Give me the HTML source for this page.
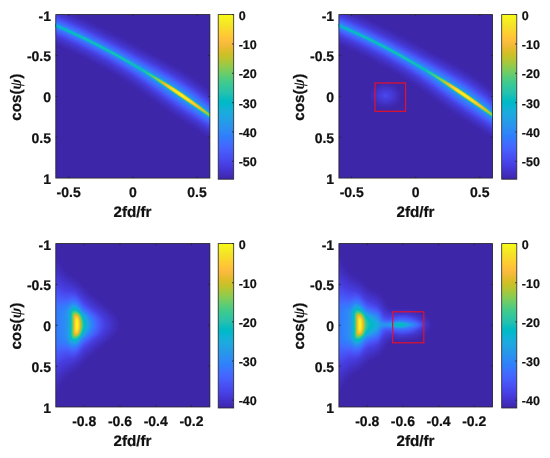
<!DOCTYPE html>
<html lang="en"><head><meta charset="utf-8"><title>Figure</title><style>html,body{margin:0;padding:0;background:#fff}
svg text{font-family:"Liberation Sans",sans-serif;font-weight:bold;fill:#111;stroke:#111;stroke-width:.22px;text-rendering:geometricPrecision}
.t{font-size:14px}.c{font-size:12.5px}.xl{font-size:15.2px}.yl{font-size:15.2px}
.psi{stroke-width:0;font-family:"Liberation Serif","DejaVu Serif",serif;font-style:italic;font-weight:bold;font-size:16px}</style></head><body>
<svg width="550" height="458" viewBox="0 0 550 458" style="display:block">
<rect width="550" height="458" fill="#fff"/>
<defs><linearGradient id="pg" x1="0" y1="0" x2="0" y2="1"><stop offset="0.0000" stop-color="#f9fb15"/><stop offset="0.0159" stop-color="#f7f51b"/><stop offset="0.0317" stop-color="#f6ef20"/><stop offset="0.0476" stop-color="#f5e924"/><stop offset="0.0635" stop-color="#f5e327"/><stop offset="0.0794" stop-color="#f7dc2a"/><stop offset="0.0952" stop-color="#fad62d"/><stop offset="0.1111" stop-color="#fccf30"/><stop offset="0.1270" stop-color="#fec934"/><stop offset="0.1429" stop-color="#fec338"/><stop offset="0.1587" stop-color="#febe3c"/><stop offset="0.1746" stop-color="#f8ba3d"/><stop offset="0.1905" stop-color="#f0ba36"/><stop offset="0.2063" stop-color="#e6bb2d"/><stop offset="0.2222" stop-color="#dcbd29"/><stop offset="0.2381" stop-color="#d1bf27"/><stop offset="0.2540" stop-color="#c5c22a"/><stop offset="0.2698" stop-color="#b9c431"/><stop offset="0.2857" stop-color="#abc739"/><stop offset="0.3016" stop-color="#9dc943"/><stop offset="0.3175" stop-color="#8fcb4e"/><stop offset="0.3333" stop-color="#81cc59"/><stop offset="0.3492" stop-color="#72cd64"/><stop offset="0.3651" stop-color="#64cd6f"/><stop offset="0.3810" stop-color="#57cc7a"/><stop offset="0.3968" stop-color="#4acb84"/><stop offset="0.4127" stop-color="#3fca8e"/><stop offset="0.4286" stop-color="#37c897"/><stop offset="0.4444" stop-color="#31c69f"/><stop offset="0.4603" stop-color="#2cc4a7"/><stop offset="0.4762" stop-color="#24c1ae"/><stop offset="0.4921" stop-color="#19bfb6"/><stop offset="0.5079" stop-color="#0bbdbd"/><stop offset="0.5238" stop-color="#02bac3"/><stop offset="0.5397" stop-color="#01b8ca"/><stop offset="0.5556" stop-color="#08b5d0"/><stop offset="0.5714" stop-color="#12b1d6"/><stop offset="0.5873" stop-color="#18addb"/><stop offset="0.6032" stop-color="#1ca9df"/><stop offset="0.6190" stop-color="#20a5e3"/><stop offset="0.6349" stop-color="#23a0e5"/><stop offset="0.6508" stop-color="#259be8"/><stop offset="0.6667" stop-color="#2797eb"/><stop offset="0.6825" stop-color="#2b91ef"/><stop offset="0.6984" stop-color="#2d8cf3"/><stop offset="0.7143" stop-color="#2e87f7"/><stop offset="0.7302" stop-color="#2f81fa"/><stop offset="0.7460" stop-color="#327cfc"/><stop offset="0.7619" stop-color="#3875fe"/><stop offset="0.7778" stop-color="#3e6fff"/><stop offset="0.7937" stop-color="#4269fe"/><stop offset="0.8095" stop-color="#4563fd"/><stop offset="0.8254" stop-color="#465efb"/><stop offset="0.8413" stop-color="#4758f8"/><stop offset="0.8571" stop-color="#4852f4"/><stop offset="0.8730" stop-color="#484df0"/><stop offset="0.8889" stop-color="#4747eb"/><stop offset="0.9048" stop-color="#4741e5"/><stop offset="0.9206" stop-color="#463cde"/><stop offset="0.9365" stop-color="#4537d5"/><stop offset="0.9524" stop-color="#4332cb"/><stop offset="0.9683" stop-color="#422ec0"/><stop offset="0.9841" stop-color="#402ab4"/><stop offset="1.0000" stop-color="#3e26a8"/></linearGradient><clipPath id="ctl"><rect x="0" y="0" width="154.1" height="163.5"/></clipPath><clipPath id="ctr"><rect x="0" y="0" width="153.7" height="163.5"/></clipPath><clipPath id="cbl"><rect x="0" y="0" width="154.1" height="163.4"/></clipPath><clipPath id="cbr"><rect x="0" y="0" width="153.7" height="163.4"/></clipPath><filter id="bl" x="-5%" y="-5%" width="110%" height="110%"><feGaussianBlur stdDeviation="1.2"/></filter><filter id="bh" x="-8%" y="-8%" width="116%" height="116%"><feGaussianBlur stdDeviation="3"/></filter></defs>
<g transform="translate(55.8 14.6)" clip-path="url(#ctl)"><rect width="154.1" height="163.5" fill="#3e26a8"/><g filter="url(#bh)"><rect x="-12" y="-12" width="178.1" height="187.5" fill="#3e26a8"/><g transform="scale(.1)"><path fill="#412dbc" d="M-100 -90l90 37 85 36 90 40 90 41 90 43 95 46 190 99 451 240 75 41 60 35 65 39 70 46 65 45 70 53 70 57 85 71 0 395 -76 -54 -74 -50 -240 -153 -90 -60 -100 -70 -174 -127 -77 -55 -89 -60 -96 -60 -76 -45 -81 -45 -94 -50 -88 -45 -92 -45 -95 -45 -100 -45 -99 -42z"/><path fill="#4332c9" d="M-100 -73l85 34 85 36 80 36 90 41 165 79 90 46 95 49 476 254 120 66 75 45 60 38 60 42 65 48 85 67 110 91 0 356 -71 -50 -74 -50 -230 -147 -90 -59 -95 -67 -181 -132 -85 -60 -89 -60 -96 -60 -86 -50 -81 -45 -94 -50 -89 -45 -92 -45 -96 -45 -101 -45 -91 -39z"/><path fill="#4536d5" d="M-100 -58l160 66 80 35 85 39 160 76 175 90 486 259 120 66 65 38 65 41 60 40 60 43 50 39 50 39 125 104 0 321 -69 -48 -74 -50 -222 -142 -90 -59 -95 -66 -189 -138 -77 -55 -97 -65 -97 -60 -86 -50 -81 -45 -95 -50 -89 -45 -92 -45 -97 -45 -101 -45 -90 -38z"/><path fill="#463cdf" d="M-100 -45l150 62 160 71 155 74 170 86 486 259 120 66 70 41 60 37 55 36 65 46 55 41 55 43 140 117 0 289 -69 -48 -67 -45 -229 -147 -85 -56 -100 -70 -175 -127 -84 -60 -98 -65 -96 -60 -77 -45 -90 -50 -85 -45 -99 -50 -92 -45 -97 -45 -101 -45 -97 -41z"/><path fill="#4742e6" d="M-100 -34l150 63 155 69 155 74 160 81 115 61 371 198 120 66 70 40 55 34 55 35 60 42 60 44 55 43 70 57 90 75 0 262 -64 -45 -67 -45 -229 -147 -85 -56 -100 -70 -175 -127 -85 -60 -97 -65 -97 -60 -77 -45 -90 -50 -95 -50 -89 -45 -103 -50 -97 -45 -101 -45 -90 -38z"/></g></g><g filter="url(#bl)"><g transform="scale(.1)"><path fill="#4849ed" d="M-100 -23l145 60 155 69 150 72 160 81 160 84 351 189 95 52 65 37 60 37 55 35 50 34 60 44 65 50 70 57 100 84 0 236 -69 -48 -67 -45 -214 -138 -90 -59 -100 -70 -177 -128 -85 -60 -97 -65 -97 -60 -78 -45 -90 -50 -85 -45 -99 -50 -103 -50 -97 -45 -101 -45 -92 -39z"/><path fill="#484ff2" d="M-100 -13l145 60 145 65 150 71 150 76 160 84 361 194 85 46 60 34 60 36 55 35 50 34 65 46 70 53 75 61 110 92 0 213 -60 -42 -67 -45 -228 -147 -90 -60 -100 -70 -191 -138 -86 -60 -84 -55 -90 -55 -86 -50 -82 -45 -85 -45 -99 -50 -103 -50 -97 -45 -102 -45 -91 -38z"/><path fill="#4755f6" d="M-100 -5l150 63 135 60 145 69 150 76 170 89 426 230 65 37 55 32 50 31 55 36 70 50 80 60 80 65 110 92 0 192 -119 -82 -236 -152 -90 -61 -100 -70 -190 -137 -80 -55 -84 -55 -89 -55 -77 -45 -91 -50 -94 -50 -100 -50 -103 -50 -98 -45 -90 -40 -100 -42z"/><path fill="#475cfa" d="M-100 4l140 58 145 65 140 66 150 76 170 89 416 225 70 39 50 29 50 31 55 36 70 49 80 60 90 72 115 96 0 172 -120 -82 -220 -142 -105 -70 -85 -60 -199 -143 -87 -60 -84 -55 -81 -50 -78 -45 -90 -50 -95 -50 -98 -50 -104 -50 -97 -45 -102 -45 -96 -41z"/><path fill="#4562fc" d="M-100 11l135 57 145 64 140 67 145 72 165 87 416 225 120 68 50 31 50 32 85 58 80 60 80 64 130 108 0 155 -115 -79 -220 -143 -105 -70 -85 -59 -192 -138 -93 -65 -85 -55 -89 -55 -87 -50 -82 -45 -94 -50 -100 -50 -103 -50 -98 -45 -102 -45 -91 -38z"/><path fill="#4369fe" d="M-100 19l140 58 135 60 140 67 145 72 165 87 416 225 115 65 95 59 80 55 90 66 85 68 135 112 0 137 -125 -85 -205 -133 -105 -70 -85 -59 -199 -143 -87 -60 -84 -55 -90 -55 -86 -50 -82 -45 -95 -50 -99 -50 -103 -50 -98 -45 -102 -45 -96 -40z"/><path fill="#3e70ff" d="M-100 26l135 56 135 60 140 67 140 70 170 89 406 219 115 65 90 55 45 30 45 31 90 66 100 80 130 107 0 121 -114 -77 -221 -144 -95 -63 -95 -67 -190 -136 -87 -60 -84 -55 -89 -55 -78 -45 -90 -50 -95 -50 -99 -50 -104 -50 -97 -45 -102 -45 -101 -42z"/><path fill="#3777fe" d="M-100 32l135 57 135 60 135 64 140 70 170 89 401 216 115 65 90 55 45 29 45 31 50 36 45 34 95 75 140 117 0 105 -110 -75 -220 -143 -95 -63 -95 -67 -191 -137 -87 -60 -92 -60 -90 -55 -78 -45 -91 -50 -95 -50 -100 -50 -104 -50 -98 -45 -102 -45 -93 -39z"/><path fill="#317dfb" d="M-100 39l125 52 135 60 130 61 140 70 180 94 391 211 110 62 90 54 55 35 45 31 45 32 50 37 100 79 145 120 0 91 -114 -78 -211 -137 -100 -66 -90 -63 -186 -134 -94 -65 -92 -60 -90 -55 -78 -45 -91 -50 -95 -50 -99 -50 -104 -50 -98 -45 -102 -45 -97 -41z"/><path fill="#2e84f9" d="M-100 45l115 47 135 60 140 65 130 65 180 95 401 216 105 59 85 51 55 35 45 31 50 35 45 33 100 79 155 129 0 76 -112 -76 -203 -132 -90 -60 -95 -66 -170 -122 -78 -55 -82 -55 -86 -55 -84 -50 -116 -65 -95 -50 -98 -50 -92 -45 -140 -65 -90 -40 -110 -46z"/><path fill="#2d8af5" d="M-100 48l130 54 125 55 140 66 120 60 105 54 120 65 176 98 225 122 70 40 60 35 50 32 50 33 50 35 55 40 55 42 55 44 155 129 0 62 -101 -69 -214 -139 -90 -60 -100 -69 -170 -122 -71 -50 -74 -50 -71 -45 -85 -50 -125 -70 -75 -40 -127 -65 -123 -60 -86 -40 -134 -60 -95 -40z"/></g></g><g transform="scale(.1)"><path fill="#2c90f0" d="M-100 50l150 63 135 60 115 54 130 65 115 61 110 59 216 123 195 107 95 56 50 31 50 33 50 34 55 40 95 74 180 148 0 51 -55 -39 -60 -40 -195 -127 -90 -60 -95 -66 -227 -162 -74 -50 -65 -40 -84 -50 -116 -65 -130 -70 -98 -50 -112 -55 -150 -70 -125 -55 -65 -27z"/><path fill="#2896ec" d="M-100 52l135 56 135 59 75 35 75 37 145 73 115 61 100 55 186 107 215 122 75 44 50 31 45 29 50 35 50 36 110 84 180 145 0 45 -130 -91 -200 -131 -90 -61 -85 -59 -131 -94 -65 -45 -75 -50 -64 -40 -120 -70 -125 -70 -84 -45 -107 -55 -122 -60 -128 -60 -100 -45 -115 -49z"/><path fill="#259be8" d="M-100 53l155 65 125 55 135 64 140 71 140 74 100 56 176 102 145 82 110 65 55 34 55 36 45 30 55 39 75 56 65 50 165 131 0 41 -90 -64 -95 -65 -160 -106 -95 -65 -205 -144 -120 -80 -56 -35 -119 -70 -116 -65 -111 -60 -97 -50 -121 -60 -116 -55 -133 -60 -107 -46z"/><path fill="#23a0e5" d="M-100 55l130 53 135 60 140 66 130 65 140 74 100 55 106 60 79 47 136 78 110 64 95 59 60 40 65 46 115 85 110 85 90 73 0 38 -60 -43 -115 -80 -225 -151 -41 -29 -4 -2 -10 -8 -5 -3 -160 -112 -120 -80 -70 -45 -111 -65 -125 -70 -110 -60 -106 -55 -121 -60 -128 -60 -110 -50 -120 -52z"/><path fill="#1fa6e2" d="M-100 56l140 58 135 59 135 64 140 71 125 66 100 55 85 49 106 62 145 83 100 59 80 50 105 70 110 80 125 96 110 88 0 35 -79 -56 -131 -90 -195 -131 -41 -29 -4 -2 -10 -8 -5 -3 -175 -122 -120 -80 -65 -40 -121 -70 -125 -70 -95 -51 -105 -55 -110 -54 -140 -66 -110 -50 -110 -47z"/><path fill="#1baade" d="M-100 58l150 61 125 55 125 60 140 70 115 60 110 60 95 55 106 62 135 77 100 59 90 56 90 60 70 49 55 41 105 80 130 104 0 33 -165 -115 -305 -207 -125 -88 -66 -45 -99 -66 -55 -35 -121 -70 -125 -70 -95 -51 -105 -55 -120 -59 -140 -66 -120 -55 -100 -42z"/><path fill="#15afd9" d="M-100 59l149 61 125 55 126 60 140 70 150 79 90 50 176 102 100 57 145 85 95 59 90 60 105 76 105 79 145 117 0 29 -200 -138 -255 -173 -190 -132 -120 -81 -50 -31 -111 -64 -135 -76 -100 -54 -100 -52 -120 -59 -125 -60 -145 -65 -90 -39z"/><path fill="#0cb3d3" d="M-100 61l146 59 114 50 129 60 140 70 142 75 99 54 71 41 115 68 90 50 145 85 90 55 90 60 85 60 120 90 90 71 75 61 0 27 -170 -117 -305 -207 -190 -133 -115 -77 -50 -30 -86 -50 -125 -70 -65 -36 -95 -50 -125 -63 -135 -66 -165 -76 -115 -50z"/><path fill="#03b7cc" d="M-100 64l130 51 116 50 130 60 151 75 124 65 110 60 70 40 130 77 85 47 135 79 90 54 85 56 85 60 115 85 90 71 95 77 0 25 -220 -151 -240 -163 -205 -143 -105 -71 -50 -31 -96 -55 -150 -84 -75 -41 -85 -44 -120 -61 -135 -64 -140 -65 -85 -38 -5 -3 -6 -2 -4 -3 -20 -7z"/><path fill="#02bac5" d="M-35 95l8 0 -3 1zM-25 99l5 0 7 1 3 2 10 3 5 3 20 7 5 3 56 22 80 35 54 25 84 40 140 70 142 75 90 50 70 40 105 63 110 61 145 84 80 50 90 60 85 60 100 75 90 71 90 74 0 22 -190 -130 -255 -173 -235 -164 -90 -61 -55 -34 -96 -55 -135 -76 -150 -80 -95 -49 -95 -46 -135 -64 -92 -43 -3 -2 -8 -3 -2 -2 -9 -3 -6 -4 -4 -1 -6 -4 -5 -1z"/><path fill="#0abdbd" d="M47 130l3 -1 5 1 -5 1zM56 135l4 -2 5 1 5 3 10 3 5 3 7 2 3 2 21 8 79 35 137 65 147 75 132 70 54 30 95 55 96 57 69 38 61 34 145 85 70 44 90 61 90 64 100 76 95 76 65 54 0 19 -400 -271 -80 -55 -175 -123 -120 -82 -30 -19 -96 -55 -160 -90 -130 -70 -80 -41 -90 -45 -182 -87 -3 -2 -8 -3 -2 -2 -8 -3 -2 -2 -8 -3 -2 -2z"/><path fill="#19bfb5" d="M136 170l4 -1 4 1 -4 1zM146 175l4 -1 6 1 -1 4zM156 180l4 -2 7 2 3 2 20 8 5 3 6 2 4 3 7 2 64 30 142 70 153 80 100 55 94 55 81 48 86 47 139 79 75 45 70 44 80 55 85 61 85 64 91 72 84 70 0 17 -415 -281 -65 -45 -160 -112 -155 -107 -50 -30 -231 -129 -65 -36 -85 -44 -80 -41 -90 -44 -69 -33 -6 -4 -4 -1 -6 -4z"/><path fill="#25c2ad" d="M435 315l0 -1 6 1zM444 320l1 -1 6 1zM454 325l1 -1 5 1zM463 330l2 -1 5 1 -5 1zM473 335l2 -1 4 1 -4 1zM482 340l3 -1 4 1 -4 1zM491 345l4 -1 3 1 -3 1zM500 350l0 -1 8 1 -3 1zM510 355l0 -2 8 2 -3 2zM519 360l1 -2 7 2 -2 2zM528 365l2 -2 7 2 -2 2zM538 370l2 -2 6 2 -1 3zM546 375l4 -2 6 2 4 3 6 2 4 3 5 2 5 3 5 2 56 30 61 35 3 3 5 2 20 13 6 2 7 5 2 2 7 3 -2 3 -7 -3 -3 -3 -6 -2 -4 -3 -14 -7 -21 -12 -69 -38 -31 -18 -5 -2 -10 -7 -7 -3 -3 -3 -6 -2 -4 -3 -5 -2 -5 -4zM752 490l3 -2 5 2 -5 1zM761 495l4 -1 3 1 -3 1zM770 500l0 -1 6 1 0 1zM779 505l2 -1 3 1zM855 550l1 -1 5 1 0 2zM862 555l4 -2 5 2 59 30 80 45 76 43 60 36 55 35 60 40 70 49 55 40 80 61 65 51 55 45 55 47 0 13 -75 -49 -390 -265 -160 -113 -106 -73 -35 -25 -9 -8z"/><path fill="#2ec4a5" d="M880 565l6 0 0 3zM886 570l5 -2 6 2 21 10 37 20 106 60 75 44 40 25 90 59 65 46 55 40 60 45 65 51 80 65 40 35 10 10 0 7 -5 -2 -54 -35 -361 -243 -65 -45 -230 -162z"/><path fill="#34c79c" d="M900 575l1 0 0 1zM903 580l3 -3 5 2 23 11 47 25 79 45 66 38 50 31 90 60 105 74 55 42 65 50 50 40 65 55 26 25 -1 3 -16 -8 -39 -25 -340 -229 -95 -65 -226 -161z"/><path fill="#3cc992" d="M921 587l10 3 38 20 72 40 60 34 90 55 75 50 105 75 100 76 50 40 55 45 28 25 15 15 -3 2 -5 -2 -41 -25 -104 -69 -230 -155 -115 -80 -176 -126 -26 -20z"/><path fill="#47cb87" d="M936 596l10 4 39 20 116 65 90 55 75 50 85 60 100 75 51 40 54 45 35 30 15 15 -5 1 -21 -11 -39 -25 -305 -205 -115 -80 -160 -115 -26 -20z"/><path fill="#54cc7c" d="M949 605l2 0 0 1zM951 610l5 -2 17 7 47 25 71 40 90 54 84 56 106 75 104 80 56 45 35 30 22 20 4 5 -1 2 -5 -1 -11 -6 -55 -35 -284 -190 -65 -45 -71 -50 -110 -80z"/><path fill="#63cd70" d="M964 615l3 0 12 5 30 15 37 20 70 40 65 40 84 55 91 65 99 75 81 65 28 25 15 15 -3 2 -5 -2 -65 -40 -275 -184 -95 -66 -110 -80 -47 -35 -12 -10 -1 -3z"/><path fill="#73cd63" d="M978 625l3 -1 3 1 22 10 56 30 44 25 74 45 77 50 85 60 99 75 75 60 35 30 15 15 0 1 -5 0 -4 -1 -41 -25 -99 -65 -172 -115 -94 -65 -90 -65 -60 -45 -18 -15z"/><path fill="#83cc57" d="M993 635l3 -2 5 2 12 5 38 20 45 25 84 50 90 60 91 65 105 80 37 30 34 30 15 15 -1 3 -7 -3 -18 -10 -55 -35 -240 -160 -65 -45 -90 -65 -60 -45z"/><path fill="#94ca4a" d="M1004 640l3 0 12 5 20 10 47 25 35 20 66 40 75 50 85 60 80 60 74 60 29 25 9 10 -3 3 -5 -2 -35 -21 -100 -65 -156 -105 -94 -65 -76 -55 -52 -40 -11 -10zM1540 1010l1 -1 1 1z"/><path fill="#a4c83e" d="M1017 650l4 -1 5 1 40 20 45 25 75 45 75 50 85 60 79 60 51 40 29 25 17 15 9 10 -5 0 -11 -5 -49 -30 -226 -150 -79 -55 -56 -40 -60 -45 -24 -20z"/><path fill="#b3c534" d="M1029 655l14 5 20 10 72 40 57 35 69 45 84 60 86 65 55 45 22 20 10 10 -2 2 -5 -2 -35 -20 -85 -55 -150 -100 -86 -60 -75 -55 -45 -35 -5 -5z"/><path fill="#c1c32c" d="M1041 663l9 2 11 5 65 35 65 40 69 45 70 50 80 60 57 45 29 25 9 10 -4 2 -5 -2 -50 -30 -115 -75 -96 -65 -79 -55 -75 -55 -25 -20 -16 -15z"/><path fill="#cfc028" d="M1049 670l2 -1 5 1 12 5 29 15 36 20 58 35 75 50 70 50 80 60 55 45 16 15 9 10 -5 0 -10 -5 -41 -25 -100 -65 -104 -70 -65 -45 -56 -40 -45 -35 -17 -15z"/><path fill="#dbbd29" d="M1059 675l3 0 23 10 55 30 57 35 68 45 70 50 67 50 49 40 23 20 9 10 -2 1 -5 -1 -50 -30 -100 -65 -89 -60 -65 -45 -62 -45 -44 -35 -5 -5z"/><path fill="#e7bb2e" d="M1071 682l10 3 11 5 46 25 58 35 61 40 64 45 60 45 51 40 29 25 10 10 -5 1 -4 -1 -26 -15 -86 -55 -105 -70 -79 -55 -54 -40 -37 -30 -5 -5z"/><path fill="#f1ba37" d="M1079 690l2 -2 7 2 21 10 28 15 58 35 61 40 70 50 79 60 42 35 10 10 -1 2 -8 -2 -42 -25 -85 -55 -75 -50 -65 -45 -55 -40 -32 -25z"/><path fill="#fabb3d" d="M1088 695l3 -1 5 1 39 20 51 30 69 45 56 40 54 40 51 40 27 25 -2 3 -7 -3 -18 -10 -71 -45 -90 -60 -80 -55 -34 -25 -38 -30 -11 -10zM1445 940l1 -1 0 1z"/><path fill="#fec03b" d="M1099 700l2 0 12 5 38 20 49 30 61 40 70 50 39 30 49 40 11 10 3 5 -2 0 -11 -5 -34 -20 -70 -45 -75 -50 -65 -45 -41 -30 -30 -25 -5 -5z"/><path fill="#fec736" d="M1109 710l2 -3 9 3 20 10 51 30 54 35 50 35 61 45 50 40 10 10 4 5 -5 0 -35 -20 -55 -35 -68 -45 -86 -60 -40 -30z"/><path fill="#fdce31" d="M1117 715l4 -2 5 2 30 15 49 30 61 40 55 40 40 30 30 25 11 10 -1 5 -35 -20 -40 -25 -90 -60 -71 -50 -32 -25 -12 -10z"/><path fill="#fad52e" d="M1126 720l6 0 11 5 28 15 25 15 61 40 49 35 40 30 36 30 5 5 -1 3 -17 -8 -33 -20 -91 -60 -85 -60 -25 -20z"/><path fill="#f7dc2a" d="M1141 727l8 3 37 20 69 45 76 55 25 20 17 15 -2 2 -5 -1 -19 -11 -32 -20 -69 -45 -64 -45 -26 -20 -17 -15z"/><path fill="#f5e327" d="M1149 735l2 -1 3 1 21 10 25 15 46 30 29 20 41 30 26 20 16 15 -2 2 -5 -2 -50 -30 -46 -30 -84 -60 -18 -15z"/><path fill="#f5ea24" d="M1163 745l3 -1 5 1 10 5 25 15 46 30 28 20 47 35 11 10 -2 3 -7 -3 -17 -10 -62 -40 -64 -45 -12 -10zM1339 865l2 -1 1 1 -1 1z"/><path fill="#f6f11f" d="M1178 755l3 -1 4 1 26 15 46 30 54 40 6 5 -1 5 -25 -15 -46 -30 -49 -35zM1316 850l5 -1 1 1 -1 1z"/><path fill="#f8f818" d="M1201 770l5 0 0 1zM1207 775l4 -1 3 1 33 20 34 25 6 5 -1 3 -16 -8 -43 -30 -16 -13zM1288 830l3 -1 2 1 -2 1z"/></g></g>
<g transform="translate(338.9 14.6)" clip-path="url(#ctr)"><rect width="153.7" height="163.5" fill="#3e26a8"/><g filter="url(#bh)"><rect x="-12" y="-12" width="177.7" height="187.5" fill="#3e26a8"/><g transform="scale(.1)"><path fill="#412dbc" d="M-100 -90l90 37 95 40 90 40 85 39 86 41 95 47 95 48 95 50 450 241 75 41 61 34 65 39 70 46 70 50 65 49 70 57 80 67 0 395 -72 -51 -74 -50 -239 -153 -91 -59 -100 -70 -174 -128 -77 -55 -89 -60 -96 -60 -76 -45 -81 -45 -94 -50 -88 -45 -92 -45 -95 -45 -100 -45 -99 -42zM346 775l10 -15 15 -14 16 -11 21 -10 23 -7 25 -3 25 0 20 2 20 5 20 8 20 13 14 12 11 15 7 15 4 15 0 10 0 10 -3 10 -3 10 -6 10 -7 10 -16 15 -21 13 -25 10 -25 6 -15 1 -15 0 -25 -3 -25 -6 -24 -11 -11 -8 -10 -7 -13 -15 -7 -10 -4 -10 -3 -10 -2 -10 0 -10 2 -10 3 -10z"/><path fill="#4332c9" d="M-100 -73l85 35 85 35 80 36 85 38 85 41 86 41 95 48 90 47 475 254 120 67 66 38 70 45 60 41 65 48 85 67 105 88 0 356 -67 -47 -74 -50 -229 -147 -91 -59 -95 -66 -188 -138 -78 -55 -89 -60 -96 -60 -77 -45 -81 -45 -84 -45 -98 -50 -102 -50 -96 -45 -101 -45 -91 -39zM355 790l8 -15 12 -15 11 -10 17 -10 18 -7 20 -5 20 -2 25 0 20 4 20 7 15 8 15 11 13 14 8 15 5 15 0 15 -2 10 -3 10 -9 15 -12 14 -16 11 -21 10 -23 7 -20 2 -25 -1 -25 -4 -20 -8 -20 -11 -15 -14 -11 -16 -6 -15 -2 -10 0 -10z"/><path fill="#4536d5" d="M-100 -58l160 66 80 35 85 39 161 77 175 89 485 259 120 66 66 39 65 40 60 41 60 43 50 38 50 40 120 100 0 321 -65 -45 -74 -50 -231 -148 -91 -60 -100 -70 -174 -127 -85 -60 -89 -60 -97 -60 -86 -50 -81 -45 -95 -50 -89 -45 -92 -45 -97 -45 -101 -45 -90 -38zM372 790l8 -15 9 -10 13 -10 14 -7 15 -6 20 -4 20 -1 15 1 20 5 15 5 12 7 12 10 11 12 7 13 2 10 1 15 -4 15 -6 12 -11 13 -14 11 -20 9 -18 5 -22 3 -20 -1 -20 -4 -20 -8 -15 -10 -12 -10 -10 -15 -5 -15 -1 -15z"/><path fill="#463cdf" d="M-100 -45l150 62 160 71 156 74 170 87 485 259 125 68 71 41 55 34 60 40 60 42 50 38 60 47 135 112 0 291 -65 -46 -75 -50 -215 -138 -91 -60 -100 -69 -175 -128 -84 -60 -98 -65 -96 -60 -77 -45 -90 -50 -85 -45 -99 -50 -92 -45 -97 -45 -101 -45 -97 -41zM387 800l3 -10 6 -10 10 -9 10 -7 15 -8 15 -4 15 -2 15 0 15 3 15 4 15 8 10 7 10 12 5 10 2 11 0 10 -2 10 -5 11 -8 9 -12 10 -15 8 -15 4 -15 2 -20 0 -15 -3 -15 -5 -13 -6 -12 -10 -8 -10 -5 -10 -2 -10z"/><path fill="#4742e6" d="M-100 -34l160 67 145 65 156 74 160 81 120 63 365 196 120 66 60 35 66 39 55 36 55 38 55 40 65 51 70 57 85 71 0 262 -60 -42 -75 -50 -215 -138 -91 -60 -100 -70 -175 -127 -85 -60 -97 -65 -97 -60 -77 -45 -90 -50 -95 -50 -89 -45 -103 -50 -97 -45 -101 -45 -90 -38zM409 800l5 -10 4 -5 5 -5 8 -5 10 -5 10 -2 10 -2 15 0 10 2 10 3 10 5 10 8 5 6 5 10 1 5 0 10 -1 5 -5 10 -10 10 -8 5 -11 5 -11 3 -10 1 -15 -1 -10 -2 -10 -4 -10 -5 -8 -7 -4 -5 -5 -10 -2 -10z"/></g></g><g filter="url(#bl)"><g transform="scale(.1)"><path fill="#4849ed" d="M-100 -23l145 60 155 69 151 72 165 84 160 84 345 186 90 49 65 38 56 33 55 35 60 41 60 44 65 50 75 61 90 75 0 237 -65 -45 -67 -45 -213 -137 -85 -56 -101 -70 -182 -132 -85 -60 -97 -65 -97 -60 -78 -45 -90 -50 -85 -45 -99 -50 -103 -50 -97 -45 -101 -45 -92 -39zM441 810l1 -5 3 -5 6 -5 5 -2 10 -2 10 1 7 3 6 5 3 5 1 5 -2 8 -5 5 -10 5 -10 1 -10 -2 -5 -2 -6 -5 -3 -5z"/><path fill="#484ff2" d="M-100 -13l145 60 145 65 151 71 155 78 165 88 350 188 85 47 60 34 61 36 55 35 50 33 65 47 70 53 75 61 105 87 0 214 -63 -44 -67 -45 -220 -142 -101 -66 -90 -64 -191 -138 -94 -65 -84 -55 -82 -50 -77 -45 -91 -50 -85 -45 -99 -50 -103 -50 -97 -45 -102 -45 -91 -38z"/><path fill="#4755f6" d="M-100 -5l150 63 145 65 146 69 150 76 170 90 425 230 60 34 61 36 55 34 45 30 70 50 75 57 80 65 105 87 0 193 -115 -79 -235 -152 -91 -60 -100 -70 -190 -138 -80 -55 -84 -55 -89 -55 -77 -45 -91 -50 -94 -50 -100 -50 -103 -50 -98 -45 -90 -40 -100 -42z"/><path fill="#475cfa" d="M-100 4l140 58 145 65 140 66 151 76 160 84 425 230 60 34 60 35 51 31 55 36 70 48 80 61 80 64 120 99 0 173 -124 -84 -211 -137 -101 -66 -100 -70 -189 -137 -87 -60 -84 -55 -90 -55 -86 -50 -82 -45 -95 -50 -100 -50 -93 -45 -97 -45 -102 -45 -96 -41z"/><path fill="#4562fc" d="M-100 11l135 57 145 64 145 69 141 71 180 95 410 222 60 33 60 36 51 30 45 30 80 55 80 60 80 64 125 104 0 155 -118 -81 -222 -144 -96 -63 -95 -67 -189 -136 -86 -60 -85 -55 -89 -55 -87 -50 -82 -45 -94 -50 -100 -50 -103 -50 -98 -45 -102 -45 -91 -38z"/><path fill="#4369fe" d="M-100 19l140 58 135 61 145 68 141 71 180 95 400 216 115 66 96 59 80 54 90 67 85 68 130 108 0 137 -114 -77 -221 -144 -95 -63 -96 -67 -189 -136 -87 -60 -84 -55 -90 -55 -86 -50 -82 -45 -95 -50 -99 -50 -103 -50 -98 -45 -102 -45 -96 -40z"/><path fill="#3e70ff" d="M-100 26l135 56 135 60 140 67 136 67 175 92 405 219 115 65 91 56 45 29 45 31 85 63 90 71 140 116 0 122 -110 -75 -220 -143 -95 -64 -96 -66 -190 -137 -79 -55 -92 -60 -89 -55 -78 -45 -90 -50 -95 -50 -99 -50 -104 -50 -97 -45 -102 -45 -101 -42z"/><path fill="#3777fe" d="M-100 32l135 57 140 62 130 62 141 70 170 89 400 217 115 65 91 55 45 29 50 34 90 67 95 75 135 112 0 106 -114 -77 -211 -137 -90 -60 -101 -70 -191 -138 -87 -60 -92 -60 -90 -55 -78 -45 -91 -50 -95 -50 -100 -50 -104 -50 -98 -45 -102 -45 -93 -39z"/><path fill="#317dfb" d="M-100 39l125 52 135 60 130 61 141 70 180 95 390 210 110 62 90 54 56 36 45 30 45 32 50 38 100 79 140 116 0 91 -110 -75 -210 -136 -100 -67 -86 -59 -198 -143 -87 -60 -92 -60 -90 -55 -78 -45 -91 -50 -95 -50 -99 -50 -104 -50 -98 -45 -102 -45 -97 -41z"/><path fill="#2e84f9" d="M-100 45l125 51 125 56 140 66 121 59 180 95 400 216 105 59 85 50 51 32 50 33 50 35 50 37 105 83 150 124 0 77 -108 -73 -202 -131 -90 -60 -96 -66 -241 -173 -81 -55 -78 -50 -100 -60 -80 -45 -121 -65 -98 -50 -102 -50 -140 -65 -90 -40 -110 -46z"/><path fill="#2d8af5" d="M-100 48l130 54 125 55 140 66 121 60 105 54 120 65 175 98 225 122 70 40 60 36 51 31 50 33 50 35 55 41 50 38 60 48 150 125 0 62 -105 -71 -205 -133 -90 -60 -101 -70 -233 -167 -66 -45 -71 -45 -75 -45 -105 -60 -130 -70 -108 -55 -122 -60 -86 -40 -145 -65 -95 -40z"/></g></g><g transform="scale(.1)"><path fill="#2c90f0" d="M-100 50l150 63 135 60 115 54 131 65 105 55 120 66 215 122 195 108 95 55 56 34 50 33 50 35 50 37 95 74 175 144 0 51 -111 -76 -194 -126 -90 -60 -96 -66 -220 -158 -66 -45 -80 -50 -85 -50 -124 -70 -131 -70 -88 -45 -112 -55 -139 -65 -101 -45 -100 -42z"/><path fill="#2896ec" d="M-100 52l135 56 135 59 75 35 75 37 136 68 115 61 100 55 105 60 90 52 205 116 85 50 56 35 50 33 50 34 45 33 110 85 170 137 0 45 -75 -53 -66 -45 -194 -127 -80 -54 -81 -56 -150 -108 -51 -35 -75 -50 -64 -40 -120 -70 -125 -70 -84 -45 -107 -55 -122 -60 -128 -60 -100 -45 -115 -49z"/><path fill="#259be8" d="M-100 53l155 65 125 55 125 60 141 70 150 80 90 49 185 108 135 77 110 65 65 40 56 35 50 34 50 36 120 90 140 110 40 33 0 41 -130 -91 -285 -192 -241 -168 -105 -70 -64 -40 -111 -65 -125 -70 -112 -60 -97 -50 -111 -55 -116 -55 -133 -60 -107 -46z"/><path fill="#23a0e5" d="M-100 55l130 53 135 60 140 66 131 65 140 74 100 55 210 122 100 57 110 65 105 65 61 40 25 18 25 17 110 80 110 85 105 84 0 38 -120 -84 -85 -57 -10 -8 -5 -3 -10 -7 -100 -67 -126 -85 -10 -8 -5 -2 -175 -123 -120 -80 -65 -40 -121 -70 -134 -75 -85 -46 -97 -49 -111 -55 -128 -60 -110 -50 -120 -52z"/><path fill="#1fa6e2" d="M-100 56l140 58 135 59 125 60 141 70 115 60 110 61 95 54 105 62 110 63 110 64 105 65 91 60 105 76 125 95 125 100 0 35 -155 -108 -306 -207 -190 -133 -105 -70 -65 -40 -120 -70 -125 -70 -95 -51 -105 -55 -121 -59 -130 -61 -110 -50 -110 -47z"/><path fill="#1baade" d="M-100 58l150 61 125 56 125 59 141 70 115 60 125 69 185 108 125 72 110 64 50 31 56 35 95 64 110 80 105 81 120 96 0 33 -190 -132 -276 -187 -169 -118 -121 -81 -55 -34 -120 -70 -135 -76 -85 -46 -105 -55 -121 -59 -140 -66 -120 -55 -100 -42z"/><path fill="#15afd9" d="M-100 59l160 66 114 50 126 60 141 70 140 74 100 55 175 103 100 56 135 79 105 65 91 61 90 64 120 91 140 112 0 31 -145 -101 -321 -218 -175 -122 -120 -80 -50 -32 -110 -64 -135 -76 -110 -59 -90 -47 -121 -59 -125 -60 -145 -65 -90 -39z"/><path fill="#0cb3d3" d="M-100 61l146 59 114 50 129 60 140 70 142 75 100 55 70 40 120 71 110 62 120 70 105 65 76 50 105 75 100 76 95 75 65 53 0 28 -195 -135 -256 -173 -210 -147 -100 -67 -65 -40 -95 -55 -115 -65 -65 -36 -95 -50 -126 -63 -135 -66 -165 -76 -115 -50z"/><path fill="#03b7cc" d="M-100 64l130 51 116 50 130 60 151 75 124 65 110 60 95 55 105 62 85 48 135 78 90 55 91 59 100 71 100 75 90 70 85 70 0 25 -179 -123 -277 -187 -205 -144 -105 -70 -50 -31 -95 -56 -150 -84 -75 -41 -85 -44 -121 -60 -135 -65 -140 -65 -85 -38 -5 -3 -6 -2 -4 -3 -20 -7z"/><path fill="#02bac5" d="M-35 95l8 0 -3 1zM-25 99l5 0 7 1 3 2 10 3 5 3 20 7 5 3 56 22 80 35 54 25 84 40 140 70 142 75 90 50 95 55 80 48 110 61 135 79 90 55 91 60 85 61 100 75 90 70 85 70 0 23 -456 -310 -205 -143 -105 -72 -40 -25 -85 -49 -150 -85 -65 -36 -95 -50 -95 -48 -96 -47 -135 -64 -103 -48 -2 -2 -9 -3 -6 -4 -4 -1 -6 -4 -5 -1z"/><path fill="#0abdbd" d="M46 130l4 -1 5 1 -5 1zM56 135l4 -2 5 1 5 3 10 3 5 3 7 2 3 2 21 8 79 35 137 65 147 75 132 70 45 25 70 40 130 77 105 58 160 93 80 50 76 51 90 64 100 75 90 71 80 66 0 21 -410 -279 -236 -164 -110 -75 -40 -26 -75 -45 -150 -84 -90 -50 -75 -40 -80 -41 -91 -45 -182 -87 -3 -2 -8 -3 -2 -2 -8 -3 -2 -2 -8 -3 -2 -2z"/><path fill="#19bfb5" d="M136 170l4 -1 4 1 -4 1zM145 175l5 -1 6 1 -1 4 -5 -3zM156 180l4 -2 7 2 3 2 20 8 5 3 6 2 4 3 7 2 3 2 8 3 53 25 142 70 153 80 100 55 86 50 94 57 72 38 53 30 95 54 65 39 81 51 80 54 90 65 80 61 96 76 74 62 0 17 -410 -277 -81 -56 -140 -98 -160 -111 -50 -29 -70 -40 -170 -96 -65 -35 -155 -80 -91 -44 -59 -28 -6 -4 -4 -1 -6 -4 -4 -1 -6 -4z"/><path fill="#25c2ad" d="M425 310l1 -1 5 1zM435 315l1 -1 5 1zM444 320l2 -1 5 1zM454 325l2 -1 4 1zM463 330l3 -1 4 1 -4 1zM473 335l3 -1 3 1 -3 1zM482 340l4 -1 3 1 -3 1zM491 345l5 -1 2 1 -2 1zM500 350l1 -1 7 1 -2 1zM510 355l1 -2 7 2 -2 2zM519 360l2 -2 6 2 -1 2zM528 365l3 -2 6 2 -1 3zM538 370l3 -2 6 2 -1 4zM546 375l5 -2 5 2 5 3 5 2 5 3 4 2 66 35 69 40 21 13 4 2 8 5 3 3 6 2 -1 3 -8 -3 -2 -2 -7 -3 -3 -3 -6 -2 -4 -3 -5 -2 -5 -3 -40 -22 -40 -23 -5 -2 -30 -18 -5 -2 -5 -3 -13 -7 -2 -2 -7 -3 -3 -3 -6 -2 -4 -4zM752 490l4 -1 4 1 -4 1zM761 493l7 2 -2 1 -5 -1zM770 500l1 -1 5 1 0 1zM780 505l1 -1 3 1zM855 550l1 -1 6 1 -1 4zM861 555l5 -2 5 2 31 15 64 35 70 40 75 44 50 30 46 29 60 40 65 46 75 55 60 46 70 55 55 45 45 39 0 13 -64 -42 -397 -268 -160 -113 -120 -84 -27 -20 -3 -3z"/><path fill="#2ec4a5" d="M881 565l5 0 42 20 63 35 70 40 65 38 50 31 91 60 65 45 60 44 60 46 65 51 79 65 41 36 0 9 -25 -15 -60 -40 -376 -254 -250 -176 -34 -25z"/><path fill="#34c79c" d="M900 575l2 0 -1 1zM903 580l3 -2 8 2 10 5 47 25 80 45 60 35 55 33 41 26 60 40 105 75 60 45 65 51 80 65 35 30 21 20 -1 3 -8 -3 -48 -30 -339 -228 -96 -66 -206 -146z"/><path fill="#3cc992" d="M915 585l2 0 -1 1zM921 587l9 3 48 25 123 70 80 48 86 57 105 75 105 80 50 40 54 45 23 20 15 15 -2 2 -6 -2 -48 -30 -341 -229 -95 -66 -196 -140 -12 -10z"/><path fill="#47cb87" d="M936 596l11 4 29 15 55 30 70 40 80 49 85 56 91 64 100 76 45 35 60 50 34 30 9 10 -3 2 -5 -2 -40 -25 -120 -79 -215 -146 -102 -70 -159 -115 -26 -20z"/><path fill="#54cc7c" d="M951 605l22 10 38 20 105 60 80 49 76 50 105 76 105 80 55 45 35 30 20 20 0 2 -7 -2 -18 -10 -70 -45 -185 -124 -126 -85 -65 -46 -145 -105 -25 -20z"/><path fill="#63cd70" d="M964 615l3 0 12 5 20 10 82 45 60 35 40 25 76 50 85 60 100 75 45 35 54 45 23 20 15 15 -2 2 -6 -2 -49 -30 -106 -70 -179 -120 -101 -70 -90 -65 -61 -45 -18 -15 -1 -3z"/><path fill="#73cd63" d="M978 625l3 -1 3 1 22 10 91 50 83 50 77 50 85 60 99 75 81 65 34 30 10 10 -4 2 -5 -2 -49 -30 -91 -60 -172 -115 -80 -55 -83 -60 -81 -60 -18 -15 -2 -2z"/><path fill="#83cc57" d="M992 635l4 -2 5 2 50 25 45 25 76 45 91 60 85 60 99 75 50 40 35 30 21 20 -1 3 -8 -3 -58 -35 -143 -95 -112 -75 -79 -55 -76 -55 -60 -45z"/><path fill="#94ca4a" d="M1005 640l2 0 12 5 20 10 38 20 44 25 66 40 75 50 85 60 80 60 74 60 23 20 15 15 -2 3 -7 -3 -42 -25 -92 -60 -149 -100 -80 -55 -90 -65 -65 -50 -5 -5zM1541 1010l1 -1 1 1z"/><path fill="#a4c83e" d="M1016 650l5 -1 16 6 29 15 45 25 75 45 75 50 85 60 86 65 50 40 23 20 22 20 3 5 -3 1 -12 -6 -33 -20 -85 -55 -157 -105 -79 -55 -69 -50 -46 -35 -25 -20z"/><path fill="#b3c534" d="M1031 655l12 5 30 15 62 35 57 35 76 50 84 60 85 65 61 50 16 15 4 5 -1 1 -7 -1 -18 -10 -55 -35 -166 -110 -95 -65 -70 -50 -46 -35 -19 -15 -11 -10z"/><path fill="#c1c32c" d="M1040 665l1 -2 5 1 15 6 56 30 75 45 60 40 85 60 80 60 50 40 28 25 10 10 -3 2 -5 -1 -35 -21 -100 -65 -105 -70 -80 -55 -56 -40 -59 -45z"/><path fill="#cfc028" d="M1049 670l2 -1 5 1 12 5 38 20 35 20 49 30 76 50 70 50 86 65 55 45 15 15 3 5 -3 0 -11 -5 -49 -30 -99 -65 -97 -65 -65 -45 -56 -40 -45 -35 -17 -15z"/><path fill="#dbbd29" d="M1059 675l3 0 23 10 46 25 50 30 77 50 64 45 80 60 55 45 17 15 9 10 -1 1 -5 -1 -35 -20 -101 -65 -104 -70 -65 -45 -55 -40 -51 -40 -5 -5z"/><path fill="#e7bb2e" d="M1071 682l10 3 11 5 55 30 49 30 61 40 70 50 60 45 51 40 23 20 9 10 -3 2 -5 -2 -50 -30 -85 -55 -89 -60 -72 -50 -55 -40 -36 -30 -5 -5z"/><path fill="#f1ba37" d="M1079 690l2 -2 7 2 21 10 28 15 50 30 69 45 70 50 66 50 50 40 15 15 0 2 -9 -2 -26 -15 -86 -55 -90 -60 -65 -45 -55 -40 -31 -25z"/><path fill="#fabb3d" d="M1088 695l3 -1 15 6 38 20 58 35 60 40 70 50 65 50 25 20 21 20 -1 3 -17 -8 -33 -20 -70 -45 -89 -60 -58 -40 -48 -35 -36 -30z"/><path fill="#fec03b" d="M1101 700l32 15 43 25 85 55 56 40 40 30 45 35 28 25 -3 3 -25 -13 -71 -45 -90 -60 -65 -45 -53 -40 -23 -20zM1430 930l2 -1 1 1z"/><path fill="#fec736" d="M1109 710l2 -3 5 2 24 11 51 30 61 40 50 35 60 45 49 40 5 5 3 5 -2 0 -11 -5 -34 -20 -115 -75 -100 -70 -32 -25z"/><path fill="#fdce31" d="M1117 715l4 -1 5 1 21 10 34 20 70 45 36 25 54 40 50 40 16 15 -6 0 -35 -20 -40 -25 -75 -50 -86 -60 -38 -30z"/><path fill="#fad52e" d="M1126 720l7 0 38 20 41 25 45 30 49 35 46 35 25 20 11 10 -1 3 -18 -8 -33 -20 -84 -55 -85 -60 -26 -20 -11 -10z"/><path fill="#f7dc2a" d="M1139 730l2 -3 5 2 23 11 33 20 53 35 36 25 47 35 30 25 5 5 -1 2 -7 -2 -18 -10 -40 -25 -61 -40 -71 -50 -19 -15z"/><path fill="#f5e327" d="M1149 735l2 -1 3 1 21 10 17 10 54 35 70 50 26 20 16 15 -1 2 -5 -2 -11 -5 -24 -15 -62 -40 -78 -55 -18 -15z"/><path fill="#f5ea24" d="M1163 745l3 -1 5 1 9 5 42 25 30 20 35 25 40 30 11 10 -1 4 -25 -14 -69 -45 -57 -40 -18 -15zM1339 865l3 -1 1 1 -1 1z"/><path fill="#f6f11f" d="M1178 755l3 -1 13 6 48 30 50 35 25 20 5 5 0 1 -5 -1 -65 -40 -56 -40z"/><path fill="#f8f818" d="M1207 775l5 -1 35 21 35 25 5 5 0 4 -32 -19 -29 -20 -14 -13zM1288 830l4 -1 1 1 -1 1z"/></g></g>
<g transform="translate(55.8 243.6)" clip-path="url(#cbl)"><rect width="154.1" height="163.4" fill="#3e26a8"/><g filter="url(#bh)"><rect x="-12" y="-12" width="178.1" height="187.4" fill="#3e26a8"/><g transform="scale(.1)"><path fill="#412dbc" d="M-100 -99l10 0 20 79 15 51 20 59 20 48 20 42 20 36 20 32 20 28 25 29 25 23 10 7 50 29 35 26 30 32 25 33 15 17 45 36 191 162 49 40 10 10 8 10 9 15 10 20 6 15 4 15 2 15 -1 14 -3 15 -3 10 -5 10 -10 20 -9 15 -8 10 -10 10 -49 40 -191 162 -45 36 -15 17 -25 33 -30 32 -35 26 -50 29 -10 7 -25 23 -26 30 -24 35 -24 40 -21 40 -20 45 -20 53 -15 47 -10 35 -20 79 -10 0z"/><path fill="#4332c9" d="M-100 26l10 0 20 64 15 42 16 38 19 41 16 29 19 30 20 28 20 25 26 27 14 12 16 13 14 7 25 10 25 12 35 21 30 33 30 40 15 15 105 86 90 76 43 35 10 10 11 15 16 30 6 15 4 15 2 15 -2 19 -4 15 -3 10 -10 20 -9 15 -11 15 -10 10 -43 35 -90 76 -105 86 -15 15 -30 40 -30 33 -35 21 -25 12 -25 10 -14 7 -16 13 -15 13 -15 15 -15 17 -21 27 -24 35 -17 30 -18 34 -15 34 -15 38 -12 34 -18 59 -10 0z"/><path fill="#4536d5" d="M-100 121l10 0 20 53 13 31 17 34 15 27 15 23 15 21 20 25 20 23 17 17 17 15 16 12 15 9 10 5 30 8 25 9 15 7 20 12 30 33 25 35 15 17 15 12 30 23 35 28 89 75 36 29 12 11 9 10 10 15 15 30 7 20 3 20 -1 9 -2 15 -4 15 -5 10 -16 30 -11 15 -10 10 -49 40 -93 78 -66 52 -14 14 -25 34 -10 12 -25 28 -20 12 -15 7 -25 9 -30 8 -10 5 -18 11 -17 14 -18 16 -17 18 -20 23 -22 29 -17 25 -15 25 -13 25 -14 30 -29 74 -10 0z"/><path fill="#463cdf" d="M-100 200l10 0 18 40 13 25 15 25 16 25 28 35 33 35 17 16 20 16 19 13 18 10 13 5 30 4 25 7 15 7 20 11 25 27 30 41 15 16 55 43 88 74 37 29 12 11 9 10 10 15 16 30 6 20 3 20 -2 19 -4 15 -3 10 -16 30 -14 20 -10 10 -12 10 -32 25 -93 78 -35 26 -15 13 -15 16 -30 41 -25 27 -20 11 -15 7 -25 7 -30 4 -15 6 -20 12 -18 12 -18 15 -21 20 -37 40 -15 20 -14 20 -13 20 -13 25 -26 55 -10 0z"/><path fill="#4742e6" d="M-100 269l10 0 20 35 14 21 18 25 18 20 15 15 21 20 23 20 16 12 28 18 27 12 10 3 25 1 25 3 15 5 25 13 30 34 30 40 10 10 45 35 77 64 32 25 12 10 10 10 14 20 16 30 3 10 3 10 3 20 -1 9 -2 15 -4 15 -5 10 -16 30 -11 15 -10 10 -50 40 -71 59 -45 35 -10 10 -30 40 -30 34 -25 13 -15 5 -25 3 -25 1 -15 5 -20 9 -15 9 -18 12 -17 14 -41 36 -14 15 -15 17 -14 18 -14 20 -27 46 -10 0z"/></g></g><g filter="url(#bl)"><g transform="scale(.1)"><path fill="#4849ed" d="M-100 331l10 0 22 29 12 15 20 20 16 15 19 15 33 25 33 21 20 10 25 9 10 2 25 -2 25 1 15 5 25 12 30 34 30 39 10 10 45 35 58 49 33 25 12 10 9 10 14 20 16 30 6 20 4 20 -2 19 -4 15 -4 10 -16 30 -14 20 -9 10 -12 10 -33 25 -58 49 -45 35 -10 10 -30 39 -30 34 -25 12 -15 5 -25 1 -25 -2 -10 2 -25 9 -25 13 -20 13 -35 25 -19 15 -16 14 -16 16 -14 15 -30 39 -10 0z"/><path fill="#484ff2" d="M-100 390l10 0 34 30 34 25 66 40 30 15 21 7 20 5 35 -5 15 0 10 1 15 5 20 10 25 27 30 39 15 16 45 35 42 35 33 25 11 10 10 10 14 20 16 30 6 20 3 20 -2 19 -3 15 -4 10 -16 30 -14 20 -10 10 -11 10 -33 25 -42 35 -45 35 -15 16 -30 39 -25 27 -20 10 -15 5 -10 1 -15 0 -35 -5 -20 5 -25 9 -30 16 -65 39 -31 23 -34 30 -10 0z"/><path fill="#4755f6" d="M-100 446l10 0 47 24 88 40 20 9 15 5 20 5 15 1 10 -2 20 -5 15 -2 10 0 15 3 25 12 30 32 25 33 15 16 72 58 33 25 12 10 9 10 15 20 15 30 7 20 3 20 -2 19 -4 15 -4 10 -15 30 -15 20 -9 10 -12 10 -33 25 -72 58 -15 16 -25 33 -30 32 -25 12 -15 3 -10 0 -15 -2 -20 -5 -10 -2 -15 1 -20 5 -15 5 -20 9 -88 40 -47 24 -10 0z"/><path fill="#475cfa" d="M-100 505l30 0 35 6 45 11 55 18 25 5 25 2 30 -10 15 -3 10 -1 15 4 25 10 30 32 25 33 10 11 19 17 76 59 13 11 14 15 16 25 10 20 4 10 4 20 1 15 -2 14 -5 20 -7 15 -11 20 -14 20 -13 13 -86 67 -19 17 -10 11 -25 33 -30 32 -25 10 -15 4 -10 -1 -15 -3 -30 -10 -25 2 -25 5 -55 18 -45 11 -35 6 -30 0z"/><path fill="#4562fc" d="M-100 576l10 0 15 -14 15 -8 15 -4 20 -3 15 0 20 1 60 12 30 3 15 -1 30 -13 15 -3 10 -1 15 3 25 9 10 10 20 22 25 33 10 11 20 18 58 44 18 15 14 15 13 20 11 20 6 15 4 20 1 15 -2 14 -5 20 -7 15 -11 20 -10 15 -14 15 -18 15 -58 44 -20 18 -10 11 -25 33 -25 27 -5 5 -25 9 -10 3 -15 -1 -15 -3 -30 -13 -15 -1 -30 3 -60 12 -20 1 -20 -1 -15 -2 -15 -4 -15 -8 -15 -14 -10 0z"/><path fill="#4369fe" d="M210 567l10 10 20 22 25 32 10 12 20 17 46 35 19 15 13 15 11 15 11 20 6 15 6 20 2 15 -1 14 -5 20 -8 20 -14 25 -16 20 -17 15 -48 36 -20 16 -15 17 -25 32 -20 22 -10 10 -30 11 -15 0 -20 -4 -25 -14 -10 -3 -20 -1 -15 0 -50 4 -15 0 -20 -3 -20 -8 -10 -6 -10 -9 -9 -10 -5 -10 -7 -15 -4 -15 -5 -35 -1 -50 0 -189 2 -25 3 -20 5 -20 7 -15 9 -15 5 -6 10 -8 10 -6 10 -5 20 -5 20 -1 55 4 30 -1 10 -1 5 -2 20 -11 10 -4 10 -3 10 -1 15 3z"/><path fill="#3e70ff" d="M170 565l15 2 25 9 10 9 20 22 25 33 10 12 15 13 41 30 23 20 16 20 17 30 6 15 3 15 2 15 -2 19 -3 15 -4 10 -16 30 -14 20 -19 18 -45 33 -20 17 -10 12 -25 33 -20 22 -10 9 -25 9 -15 2 -10 -1 -15 -5 -25 -15 -10 -4 -30 -5 -50 -2 -16 -3 -9 -3 -10 -5 -15 -12 -8 -10 -8 -15 -5 -15 -5 -20 -2 -15 -1 -20 0 -189 3 -35 3 -20 5 -15 7 -15 7 -10 9 -10 7 -5 9 -5 9 -4 15 -4 55 -2 30 -5 10 -4 25 -15 15 -5z"/><path fill="#3777fe" d="M170 574l15 2 25 8 10 10 20 21 25 34 10 11 17 15 35 25 17 15 16 20 17 30 6 15 3 15 2 15 -2 19 -3 15 -4 10 -16 30 -14 20 -19 18 -38 27 -17 15 -10 11 -25 34 -20 21 -10 10 -25 8 -15 2 -10 -1 -15 -6 -25 -17 -10 -5 -30 -8 -40 -8 -15 -5 -10 -6 -11 -10 -7 -10 -5 -10 -5 -15 -3 -15 -3 -30 0 -179 2 -30 2 -15 5 -15 4 -10 6 -11 10 -11 5 -4 10 -5 15 -5 40 -8 30 -8 10 -5 25 -17 15 -6z"/><path fill="#317dfb" d="M170 582l15 2 25 8 10 9 20 22 25 33 10 12 15 12 34 25 16 15 14 20 15 30 5 15 5 25 -3 19 -3 15 -4 10 -15 30 -14 20 -16 15 -34 25 -15 12 -10 12 -25 33 -20 22 -10 9 -25 8 -15 2 -10 -2 -15 -6 -10 -7 -15 -13 -10 -7 -50 -20 -15 -7 -10 -7 -10 -10 -5 -9 -5 -10 -4 -20 -2 -25 0 -164 1 -30 4 -20 3 -10 6 -10 8 -10 14 -10 15 -8 50 -20 10 -7 15 -13 10 -7 15 -6z"/><path fill="#2e84f9" d="M170 590l15 2 25 7 10 10 20 22 25 32 10 12 12 10 28 20 16 15 14 20 16 30 6 20 3 20 -2 19 -4 15 -3 10 -16 30 -14 20 -16 15 -28 20 -12 10 -10 12 -25 32 -20 22 -10 10 -25 7 -10 2 -5 0 -10 -2 -15 -7 -10 -8 -20 -20 -35 -23 -18 -15 -12 -15 -6 -15 -3 -15 -1 -30 0 -164 3 -20 5 -15 10 -15 9 -10 20 -15 28 -18 25 -24 5 -4 10 -5z"/><path fill="#2d8af5" d="M175 597l10 2 25 7 5 5 25 26 30 39 15 13 27 21 10 10 15 20 15 30 6 20 3 20 -2 19 -3 15 -4 10 -15 30 -15 20 -10 10 -27 21 -15 13 -30 39 -25 26 -5 5 -25 7 -10 2 -5 0 -10 -3 -10 -4 -10 -8 -8 -8 -17 -20 -15 -15 -10 -10 -7 -10 -6 -10 -5 -15 -2 -15 -1 -90 1 -104 2 -15 5 -15 6 -10 7 -10 10 -10 15 -15 17 -20 8 -8 10 -8 10 -4 10 -3z"/></g></g><g transform="scale(.1)"><path fill="#2c90f0" d="M175 604l10 2 25 7 5 4 25 27 30 38 10 9 23 19 12 11 14 19 15 30 5 15 4 25 -2 19 -5 20 -14 30 -14 20 -9 10 -39 33 -30 38 -25 27 -5 4 -25 7 -10 2 -5 -1 -10 -2 -10 -5 -10 -9 -11 -14 -24 -35 -8 -15 -4 -15 -2 -15 -1 -85 1 -109 2 -15 4 -15 8 -15 24 -35 11 -14 10 -9 10 -5 10 -2z"/><path fill="#2896ec" d="M175 611l10 2 25 6 5 4 25 27 30 38 31 27 9 10 14 20 13 25 5 20 3 20 -2 19 -3 15 -3 10 -13 25 -14 20 -9 10 -31 27 -30 38 -25 27 -5 4 -25 6 -10 2 -10 -1 -10 -5 -10 -7 -5 -6 -7 -10 -6 -10 -15 -35 -4 -15 -2 -15 -1 -85 1 -109 2 -15 4 -15 15 -35 6 -10 7 -10 5 -6 10 -7 10 -5z"/><path fill="#259be8" d="M175 618l10 1 25 7 5 4 25 26 30 37 23 22 9 10 15 20 12 25 5 15 4 25 -2 19 -3 15 -4 10 -12 25 -15 20 -9 10 -23 22 -30 37 -25 26 -5 4 -25 7 -10 1 -5 0 -10 -3 -10 -7 -5 -5 -6 -7 -6 -10 -4 -10 -6 -15 -5 -20 -1 -15 -1 -90 1 -109 1 -20 4 -15 9 -25 5 -10 7 -10 7 -7 10 -7 10 -3z"/><path fill="#23a0e5" d="M175 624l10 1 25 6 5 4 20 21 30 36 26 28 18 25 13 25 5 15 4 25 -2 19 -3 15 -4 10 -13 25 -14 20 -30 33 -30 36 -20 21 -5 4 -25 6 -10 1 -10 -2 -5 -2 -9 -7 -5 -5 -9 -15 -8 -20 -4 -15 -2 -20 0 -90 0 -109 2 -20 2 -15 7 -20 5 -10 6 -9 5 -5 10 -8 5 -2z"/><path fill="#1fa6e2" d="M175 630l10 1 25 6 5 4 25 26 44 53 18 25 13 25 5 15 4 25 0 9 -5 25 -4 10 -13 25 -18 25 -44 53 -25 26 -5 4 -25 6 -10 1 -10 -2 -5 -3 -10 -8 -5 -7 -5 -8 -6 -17 -4 -15 -2 -20 0 -85 0 -114 2 -20 3 -15 7 -20 5 -10 4 -5 12 -10 9 -4z"/><path fill="#1baade" d="M175 636l10 1 25 5 15 14 25 27 32 42 10 15 11 20 9 20 3 15 2 15 -2 19 -3 15 -4 10 -19 35 -10 15 -34 42 -15 17 -15 15 -5 4 -25 5 -10 1 -10 -3 -5 -3 -8 -8 -4 -5 -6 -10 -5 -15 -3 -15 -1 -15 -1 -85 1 -114 1 -15 2 -15 6 -20 8 -14 7 -6 6 -5 7 -3z"/><path fill="#15afd9" d="M180 641l30 6 5 4 25 25 20 24 14 20 9 15 16 30 5 10 3 10 4 25 -2 19 -4 15 -3 10 -19 35 -20 30 -18 23 -30 31 -5 4 -30 6 -10 -2 -5 -2 -6 -5 -9 -10 -5 -9 -4 -11 -3 -15 -1 -15 -1 -90 1 -109 1 -15 2 -15 3 -10 4 -10 8 -12 10 -8 5 -2z"/><path fill="#0cb3d3" d="M180 647l30 5 5 4 15 14 15 16 11 14 17 25 20 40 6 15 3 15 2 15 -2 19 -3 15 -3 10 -18 35 -11 20 -11 15 -11 14 -15 16 -15 14 -5 4 -30 5 -10 -1 -5 -3 -5 -4 -5 -6 -5 -7 -6 -17 -3 -15 -1 -15 0 -189 1 -15 2 -15 4 -15 3 -7 6 -8 9 -9 5 -3z"/><path fill="#03b7cc" d="M180 652l10 1 20 4 10 8 15 15 18 20 13 20 22 45 5 15 3 15 2 15 -2 19 -3 15 -3 10 -16 35 -11 20 -6 10 -17 20 -25 25 -5 3 -20 4 -10 1 -10 -2 -5 -3 -5 -4 -8 -14 -5 -15 -3 -15 0 -15 0 -184 0 -15 3 -15 5 -15 8 -14 5 -4 5 -3z"/><path fill="#02bac5" d="M180 657l10 1 20 3 10 8 25 25 9 11 6 10 8 15 17 40 4 15 3 25 -1 19 -3 15 -3 10 -17 40 -8 15 -6 10 -9 11 -25 25 -10 8 -20 3 -10 1 -10 -2 -7 -6 -7 -10 -6 -15 -2 -10 -1 -15 0 -184 0 -15 2 -15 5 -15 6 -12 5 -5 5 -4z"/><path fill="#0abdbd" d="M180 662l10 0 20 4 5 3 15 13 12 13 9 10 6 10 5 10 16 40 5 15 4 30 -1 19 -3 15 -3 10 -18 45 -5 10 -6 10 -9 10 -12 13 -15 13 -5 3 -20 4 -10 0 -5 0 -5 -2 -6 -6 -6 -10 -5 -15 -3 -25 0 -179 1 -15 2 -15 5 -15 6 -10 6 -6 5 -2z"/><path fill="#19bfb5" d="M185 666l25 4 5 3 24 22 12 15 11 20 14 40 3 15 3 25 0 14 -5 25 -13 40 -7 15 -6 10 -12 15 -24 22 -5 3 -25 4 -10 -1 -5 -3 -5 -4 -6 -11 -3 -10 -3 -25 0 -179 1 -15 2 -15 3 -10 6 -11 5 -4 5 -3z"/><path fill="#25c2ad" d="M185 670l25 4 5 2 20 18 13 16 6 10 5 10 13 40 4 20 2 20 -1 19 -5 25 -13 40 -5 10 -6 10 -13 16 -20 18 -5 2 -25 4 -10 -2 -5 -3 -4 -5 -3 -5 -5 -15 -2 -25 0 -169 2 -30 5 -15 3 -5 4 -5 5 -3z"/><path fill="#2ec4a5" d="M185 674l25 3 5 3 17 15 14 15 6 10 4 10 12 35 4 20 2 25 -1 19 -4 25 -11 35 -9 20 -7 10 -7 8 -20 17 -5 3 -25 3 -10 -2 -5 -4 -6 -10 -3 -10 -2 -25 0 -169 0 -15 2 -15 3 -10 6 -10 5 -4z"/><path fill="#34c79c" d="M185 678l25 3 5 2 19 17 12 15 10 20 9 30 3 15 3 30 -2 24 -3 20 -9 30 -5 15 -6 10 -12 15 -19 17 -5 2 -25 3 -5 -1 -5 -2 -5 -4 -3 -5 -3 -10 -2 -10 -1 -15 0 -164 2 -30 2 -11 5 -9 5 -4 5 -2z"/><path fill="#3cc992" d="M190 682l20 2 5 2 16 14 9 10 5 7 8 18 9 30 4 20 2 25 -1 19 -3 25 -9 30 -10 23 -5 7 -9 10 -16 14 -5 2 -20 2 -10 0 -5 -3 -5 -5 -2 -5 -3 -9 -2 -26 0 -159 2 -30 3 -10 2 -5 5 -5 5 -3z"/><path fill="#47cb87" d="M185 685l10 0 15 2 5 2 15 13 11 13 6 10 4 10 8 25 4 20 2 30 -1 24 -3 20 -8 30 -9 20 -11 15 -8 8 -10 8 -5 2 -20 2 -10 -1 -5 -3 -5 -7 -3 -14 -2 -25 0 -134 1 -40 1 -10 4 -10 4 -6 5 -3z"/><path fill="#54cc7c" d="M190 688l20 2 5 2 15 13 12 15 8 20 8 25 3 20 2 25 -1 24 -4 25 -8 25 -8 20 -12 15 -15 13 -5 2 -20 2 -10 -2 -5 -4 -3 -6 -3 -10 -2 -25 0 -149 2 -30 3 -10 3 -6 5 -4z"/><path fill="#63cd70" d="M190 691l20 2 5 2 12 10 12 15 9 20 7 25 3 15 2 30 -1 24 -2 20 -7 25 -8 20 -10 15 -7 7 -10 8 -5 2 -15 2 -10 -1 -5 -2 -5 -6 -3 -5 -2 -10 -1 -25 0 -134 1 -35 2 -10 3 -7 5 -4 5 -2z"/><path fill="#73cd63" d="M195 694l15 1 5 3 14 12 10 15 7 15 7 25 4 20 1 25 -1 24 -3 20 -6 25 -9 20 -10 15 -14 12 -5 3 -15 1 -10 -1 -5 -2 -5 -7 -2 -6 -1 -10 -1 -15 0 -149 1 -25 3 -11 5 -7 5 -2z"/><path fill="#83cc57" d="M190 697l20 1 5 2 11 10 11 15 8 18 6 22 3 15 2 30 -1 24 -3 20 -6 25 -6 15 -10 16 -5 5 -10 9 -5 2 -15 1 -10 -1 -5 -4 -2 -3 -3 -10 -2 -25 -1 -119 1 -40 2 -13 3 -7 5 -5z"/><path fill="#94ca4a" d="M195 700l15 1 5 2 13 12 9 15 8 20 5 20 3 15 1 25 -1 24 -3 20 -5 20 -8 20 -9 15 -13 12 -5 2 -15 1 -10 -2 -3 -3 -4 -5 -1 -5 -3 -25 0 -139 2 -25 2 -10 4 -5 3 -3z"/><path fill="#a4c83e" d="M195 703l15 0 5 3 10 9 10 15 6 15 6 20 3 15 2 25 0 19 -3 25 -4 20 -8 20 -8 15 -9 10 -5 4 -5 3 -10 0 -10 0 -5 -2 -4 -5 -3 -10 -2 -25 0 -119 1 -35 2 -10 2 -5 4 -5 5 -2z"/><path fill="#b3c534" d="M195 705l15 1 5 2 10 10 7 12 7 15 6 20 3 15 2 25 0 19 -3 25 -3 15 -7 20 -7 15 -10 12 -5 5 -5 2 -10 1 -10 -1 -5 -3 -3 -6 -3 -10 -1 -25 -1 -109 2 -35 1 -11 5 -9 5 -4z"/><path fill="#c1c32c" d="M200 708l10 1 5 2 9 9 9 15 6 15 6 20 2 15 1 25 0 19 -2 20 -4 15 -7 20 -8 15 -8 10 -4 4 -5 2 -10 1 -10 -2 -5 -4 -4 -11 -2 -25 0 -124 2 -25 4 -11 5 -4z"/><path fill="#cfc028" d="M200 711l10 1 6 3 9 10 8 15 7 20 4 15 2 35 0 19 -2 20 -4 15 -7 20 -8 15 -9 10 -6 3 -10 1 -5 0 -5 -2 -5 -6 -2 -6 -1 -10 -1 -15 0 -119 1 -25 3 -10 4 -5 6 -4z"/><path fill="#dbbd29" d="M200 714l10 0 5 3 7 8 9 15 7 20 4 15 2 35 0 19 -2 20 -4 15 -7 20 -9 15 -7 8 -5 3 -10 0 -5 -1 -5 -2 -4 -8 -1 -5 -3 -25 0 -114 3 -25 1 -5 4 -8 5 -2z"/><path fill="#e7bb2e" d="M200 717l10 1 5 2 8 10 5 10 6 15 5 15 2 15 1 20 0 19 -1 20 -4 15 -4 15 -7 15 -6 9 -6 6 -4 2 -5 1 -10 -1 -5 -4 -1 -3 -4 -14 -1 -21 0 -94 1 -30 2 -10 3 -8 5 -4z"/><path fill="#f1ba37" d="M200 721l10 0 5 3 5 6 6 10 6 15 5 15 2 15 1 20 0 19 -1 20 -2 10 -5 15 -6 15 -6 11 -5 5 -5 3 -10 0 -5 -1 -5 -6 -3 -12 -1 -20 -1 -89 2 -30 1 -10 2 -7 5 -6z"/><path fill="#fabb3d" d="M210 724l5 3 6 8 7 15 5 15 3 10 2 15 1 20 -2 34 -2 10 -5 16 -6 14 -9 13 -5 3 -10 0 -5 -3 -5 -8 -1 -5 -2 -25 0 -94 2 -25 1 -5 5 -8 5 -3z"/><path fill="#fec03b" d="M205 727l5 1 5 3 6 9 7 15 5 15 2 10 2 30 -2 34 -2 10 -5 15 -7 15 -6 9 -5 3 -5 1 -5 -1 -5 -4 -3 -8 -2 -5 -1 -20 0 -94 1 -20 2 -5 3 -8 5 -4z"/><path fill="#fec736" d="M205 731l5 1 5 3 5 7 6 13 4 12 3 13 2 30 -2 34 -5 20 -6 15 -7 10 -5 3 -5 1 -5 -1 -5 -5 -2 -8 -2 -20 0 -89 1 -20 3 -13 5 -5z"/><path fill="#fdce31" d="M205 735l5 0 5 4 5 8 5 11 4 12 2 10 2 30 -2 34 -5 20 -6 13 -5 8 -5 4 -5 0 -5 -2 -2 -3 -3 -5 -1 -5 -2 -20 0 -84 2 -20 1 -5 3 -5 2 -3z"/><path fill="#fad52e" d="M205 740l5 0 5 3 6 12 4 10 3 10 3 25 -1 29 -1 15 -2 10 -7 18 -5 9 -5 3 -5 0 -5 -2 -1 -3 -4 -10 -1 -15 0 -69 1 -25 2 -10 3 -8z"/><path fill="#f7dc2a" d="M210 744l6 6 4 7 5 13 2 15 2 25 -1 24 -3 18 -6 17 -4 7 -5 4 -5 -1 -5 -3 -2 -7 -2 -15 0 -79 1 -15 3 -12 5 -3z"/><path fill="#f5e327" d="M210 749l5 5 5 10 2 6 3 15 1 25 0 24 -3 15 -3 11 -4 9 -6 6 -5 -1 -4 -5 -2 -5 -1 -15 0 -74 1 -15 2 -5 4 -5z"/><path fill="#f5ea24" d="M210 755l5 5 5 11 3 19 1 20 0 19 -3 20 -6 15 -5 5 -5 -1 -4 -9 -1 -4 -1 -40 1 -46 1 -4 4 -9z"/><path fill="#f6f11f" d="M210 762l5 5 4 13 2 15 0 15 0 19 -2 15 -4 13 -5 5 -5 -2 -2 -6 -1 -10 0 -29 1 -40 2 -11z"/><path fill="#f8f818" d="M210 771l5 9 2 15 1 15 -1 19 -2 15 -5 9 -3 -4 -2 -4 0 -30 0 -36 2 -4z"/></g></g>
<g transform="translate(338.9 243.6)" clip-path="url(#cbr)"><rect width="153.7" height="163.4" fill="#3e26a8"/><g filter="url(#bh)"><rect x="-12" y="-12" width="177.7" height="187.4" fill="#3e26a8"/><g transform="scale(.1)"><path fill="#412dbc" d="M-100 -99l10 0 20 79 15 51 20 59 19 45 16 35 24 45 21 33 19 27 26 30 25 24 10 6 50 29 35 26 30 33 25 29 10 9 10 7 15 7 33 15 38 12 10 5 10 7 5 6 10 15 20 36 40 69 10 14 10 11 6 5 9 5 20 5 25 2 90 0 45 3 25 4 25 4 20 5 25 8 20 7 20 9 15 8 15 10 11 10 9 8 22 27 22 20 2 5 0 5 -2 4 -22 20 -21 25 -16 15 -13 10 -17 10 -20 10 -20 8 -40 11 -20 5 -30 4 -55 5 -85 0 -20 1 -20 3 -10 3 -9 5 -12 10 -14 20 -40 69 -20 36 -10 15 -5 6 -10 7 -10 5 -41 13 -30 14 -15 7 -10 7 -10 9 -25 29 -30 33 -35 26 -55 32 -15 12 -15 15 -15 17 -15 19 -15 21 -15 23 -14 25 -26 51 -20 46 -21 58 -19 65 -20 79 -10 0z"/><path fill="#4332c9" d="M-100 26l10 0 20 64 15 42 16 38 19 41 16 29 19 30 22 30 20 25 14 15 15 15 14 12 15 10 10 6 25 9 25 12 35 22 30 33 25 30 5 5 10 8 15 8 32 15 49 17 15 9 5 6 10 14 50 87 10 14 10 9 5 4 10 5 10 3 10 1 25 1 80 -3 45 1 30 3 25 4 25 6 20 5 20 8 20 8 15 8 14 10 18 15 22 25 19 15 5 5 2 5 0 5 -2 4 -5 5 -19 15 -22 25 -17 15 -15 10 -15 8 -20 8 -20 8 -20 5 -25 6 -25 4 -30 3 -45 1 -80 -3 -25 1 -10 1 -10 3 -10 5 -5 4 -10 9 -10 14 -50 87 -10 14 -5 6 -15 9 -49 17 -32 15 -15 8 -10 8 -5 5 -25 30 -30 33 -35 22 -25 12 -25 9 -14 8 -16 13 -14 12 -26 27 -22 28 -24 35 -19 31 -18 34 -17 38 -15 38 -12 34 -18 59 -10 0z"/><path fill="#4536d5" d="M-100 121l10 0 20 53 13 31 17 34 18 31 16 25 19 25 20 25 19 20 28 26 15 11 15 9 10 5 30 8 25 9 15 7 20 12 30 34 25 31 5 5 11 8 14 8 38 17 38 12 10 4 10 7 5 5 10 15 25 44 20 32 10 12 10 10 6 4 9 3 10 3 10 1 20 -1 70 -5 45 -1 30 2 25 3 20 4 25 6 20 6 20 8 15 7 15 9 19 15 25 25 20 15 5 5 3 5 0 5 -3 4 -5 5 -20 15 -25 25 -12 10 -15 10 -17 9 -20 8 -20 7 -20 5 -25 5 -25 3 -30 2 -45 0 -75 -5 -20 -1 -10 1 -10 3 -9 3 -6 4 -10 10 -10 12 -20 32 -25 44 -10 15 -5 5 -10 7 -10 4 -38 12 -38 17 -14 8 -11 8 -5 5 -25 31 -30 34 -20 12 -15 7 -25 9 -30 8 -10 5 -15 9 -15 11 -15 13 -15 15 -21 23 -24 30 -18 25 -17 28 -15 27 -15 32 -12 28 -18 49 -10 0z"/><path fill="#463cdf" d="M-100 200l10 0 20 43 14 27 16 27 20 28 16 20 17 20 20 20 16 15 16 13 15 11 15 10 15 7 10 4 25 4 25 5 15 6 25 14 30 34 25 31 10 9 15 9 15 7 25 11 41 13 10 5 10 6 5 5 7 11 23 40 16 25 14 17 7 8 8 6 5 2 10 4 10 1 10 0 85 -9 25 -1 25 0 45 3 40 8 20 5 20 8 15 6 15 9 18 13 27 25 22 15 5 5 3 5 0 5 -3 4 -5 5 -22 15 -27 25 -13 10 -15 9 -15 7 -20 8 -20 6 -40 8 -45 4 -25 0 -30 -1 -85 -9 -10 0 -10 1 -10 4 -5 2 -8 6 -7 8 -14 17 -16 25 -23 40 -7 11 -5 5 -10 6 -10 5 -41 13 -25 11 -15 7 -15 9 -10 9 -25 31 -30 34 -25 14 -15 6 -25 5 -25 4 -10 4 -20 10 -15 10 -15 12 -17 14 -20 20 -23 25 -17 20 -14 20 -14 21 -15 26 -12 23 -18 40 -10 0z"/><path fill="#4742e6" d="M-100 269l10 0 20 35 14 21 18 25 18 20 20 20 22 20 18 15 19 15 26 16 25 11 10 3 25 1 25 3 15 5 25 13 30 34 20 25 10 11 15 10 15 8 30 12 41 14 10 4 10 7 10 12 25 43 8 13 22 27 10 10 5 3 5 2 10 2 15 0 75 -11 25 -2 25 -1 25 0 20 2 25 3 20 4 20 5 20 7 15 7 15 8 15 11 20 18 31 20 5 5 3 5 0 5 -3 4 -5 5 -31 20 -23 20 -15 10 -17 9 -15 7 -20 6 -20 5 -40 6 -20 2 -25 0 -25 -1 -25 -2 -75 -11 -15 0 -10 2 -5 2 -5 3 -10 10 -22 27 -8 13 -25 43 -10 12 -10 7 -10 4 -41 14 -30 12 -15 8 -15 10 -10 11 -20 25 -30 34 -25 13 -15 5 -25 3 -25 1 -10 3 -25 11 -26 16 -19 15 -18 15 -22 20 -20 20 -18 20 -18 25 -14 21 -20 35 -10 0z"/></g></g><g filter="url(#bl)"><g transform="scale(.1)"><path fill="#4849ed" d="M-100 331l10 0 22 29 12 15 20 20 16 15 39 30 36 25 27 15 28 10 10 2 25 -2 20 1 15 3 15 7 15 7 30 34 20 25 10 10 5 4 15 9 20 9 26 11 35 11 15 8 5 3 10 12 25 42 25 35 10 12 10 6 10 2 15 0 70 -14 25 -3 20 -2 25 0 20 0 25 3 20 3 20 5 20 6 15 6 18 10 12 7 22 18 33 20 6 5 3 5 0 5 -3 4 -6 5 -33 20 -26 20 -16 10 -15 7 -15 6 -20 6 -20 4 -40 5 -20 0 -25 0 -20 -2 -25 -3 -70 -14 -15 0 -10 2 -10 6 -10 12 -25 35 -25 42 -10 12 -5 3 -15 8 -35 11 -26 11 -20 9 -15 9 -5 4 -10 10 -20 25 -30 34 -15 7 -15 7 -15 3 -20 1 -25 -2 -10 2 -28 10 -27 15 -36 25 -39 30 -16 15 -20 20 -12 15 -22 29 -10 0z"/><path fill="#484ff2" d="M-100 390l10 0 34 30 34 25 66 40 30 15 21 7 20 5 10 -1 20 -4 25 0 15 4 25 12 30 33 25 30 10 8 15 9 13 7 27 11 41 14 10 4 10 7 10 12 50 79 6 8 9 5 10 3 15 0 70 -17 20 -4 25 -3 25 -1 20 1 20 2 20 2 20 5 15 4 15 6 15 7 15 8 23 17 37 20 6 5 4 5 0 5 -4 4 -6 5 -37 20 -23 17 -15 9 -15 6 -20 7 -35 8 -20 3 -20 1 -20 1 -22 -2 -23 -2 -20 -4 -70 -17 -15 0 -10 3 -9 5 -6 8 -50 79 -10 12 -10 7 -10 4 -41 14 -27 11 -13 7 -15 9 -10 8 -25 30 -30 33 -25 12 -15 4 -25 0 -20 -4 -10 -1 -20 5 -21 7 -30 15 -66 40 -34 25 -34 30 -10 0z"/><path fill="#4755f6" d="M-100 446l10 0 47 24 88 40 20 9 15 5 20 4 15 2 10 -2 20 -6 15 -1 10 0 15 3 25 12 30 32 25 30 10 9 15 9 15 7 28 12 38 12 10 5 10 6 10 12 12 20 33 55 8 10 9 5 8 2 10 1 15 -1 12 -2 49 -15 24 -5 20 -3 20 -1 20 0 20 1 20 2 20 4 15 4 15 5 15 7 35 21 40 20 7 5 3 5 0 5 -3 4 -7 6 -40 19 -30 18 -15 7 -29 10 -31 7 -35 2 -20 0 -20 -1 -20 -3 -24 -5 -49 -15 -12 -2 -15 -1 -10 1 -8 2 -9 5 -8 10 -33 55 -12 20 -10 12 -10 6 -10 5 -38 12 -28 12 -15 7 -15 9 -10 9 -25 30 -30 32 -25 12 -15 3 -10 0 -15 -1 -20 -6 -10 -2 -15 2 -20 4 -15 5 -20 9 -88 40 -47 24 -10 0z"/><path fill="#475cfa" d="M-100 505l30 0 35 6 45 10 55 19 25 5 15 2 10 0 30 -11 15 -2 10 -1 15 4 25 10 30 32 25 30 10 9 15 9 15 7 25 11 41 13 10 5 10 6 10 12 12 19 8 15 12 25 6 10 10 10 12 6 10 2 10 2 20 -1 20 -4 30 -10 20 -5 35 -6 35 -1 30 2 30 6 15 5 15 6 35 18 30 12 16 8 7 5 3 5 0 5 -3 4 -13 9 -40 16 -41 20 -14 6 -15 4 -30 5 -20 2 -20 0 -35 -3 -30 -6 -40 -13 -25 -4 -20 0 -15 3 -12 6 -10 10 -6 10 -12 25 -8 15 -12 19 -10 12 -10 6 -10 5 -41 13 -25 11 -15 7 -15 9 -10 9 -25 30 -30 32 -25 10 -15 4 -10 -1 -15 -2 -30 -11 -10 0 -15 2 -25 5 -55 19 -45 10 -35 6 -30 0z"/><path fill="#4562fc" d="M-100 576l10 0 15 -14 14 -7 11 -4 15 -3 20 -1 25 1 56 12 19 2 15 1 15 -1 25 -11 10 -4 15 -2 15 1 30 12 30 31 25 30 5 5 10 7 26 14 24 10 41 13 10 5 10 6 10 11 9 15 8 15 10 25 7 10 11 9 10 5 20 5 10 0 15 0 26 -4 44 -12 30 -5 35 -2 30 2 20 3 20 6 44 18 41 14 11 6 8 5 4 5 0 5 -4 4 -14 9 -46 16 -34 15 -25 8 -30 5 -30 1 -35 -2 -25 -5 -44 -12 -26 -4 -15 0 -10 0 -20 5 -10 5 -11 9 -7 10 -10 25 -8 15 -9 15 -10 11 -10 6 -10 5 -41 13 -24 10 -26 14 -10 7 -5 5 -25 30 -30 31 -25 10 -15 3 -15 -1 -15 -5 -20 -9 -5 -2 -10 -1 -15 1 -20 2 -50 10 -15 2 -30 1 -15 -2 -10 -2 -11 -4 -10 -5 -9 -6 -10 -10 -10 0z"/><path fill="#4369fe" d="M-77 660l3 -15 5 -15 5 -10 5 -10 8 -10 6 -6 10 -7 10 -5 15 -5 20 -3 15 0 50 4 15 0 20 -1 10 -4 20 -10 10 -4 15 -4 15 1 30 11 30 32 25 29 5 5 10 7 17 10 28 12 46 16 10 4 10 6 10 11 6 11 5 10 10 25 5 10 10 10 14 7 10 3 10 2 25 1 29 -3 41 -9 35 -6 30 -1 30 1 15 3 20 4 85 27 12 6 8 5 4 5 0 5 -4 4 -8 5 -17 7 -80 26 -20 4 -15 3 -30 1 -30 -1 -35 -6 -41 -9 -29 -3 -25 1 -10 2 -10 3 -14 7 -10 10 -5 10 -10 25 -5 10 -6 11 -10 11 -10 6 -10 4 -46 16 -28 12 -17 10 -10 7 -5 5 -25 29 -30 32 -25 9 -15 3 -15 -2 -15 -6 -25 -13 -15 -2 -30 0 -50 4 -20 -1 -15 -4 -15 -6 -10 -6 -11 -9 -8 -10 -8 -15 -5 -15 -4 -15 -4 -35 -1 -50 0 -174 1 -25z"/><path fill="#3e70ff" d="M-46 680l6 -25 9 -20 11 -15 10 -9 11 -6 9 -4 15 -4 55 -2 30 -5 10 -4 20 -13 10 -4 15 -4 5 0 10 1 30 10 30 31 25 30 5 5 10 7 19 11 37 15 35 11 10 4 10 6 7 9 7 10 14 35 6 10 4 5 7 4 10 6 20 5 15 1 15 0 20 -1 45 -9 35 -5 30 -1 30 2 30 5 85 23 12 5 9 5 4 5 0 5 -4 4 -9 5 -22 9 -75 19 -35 6 -30 1 -30 -2 -30 -4 -45 -9 -20 -1 -15 0 -15 1 -20 5 -10 6 -7 4 -4 5 -6 10 -14 35 -7 10 -7 9 -10 6 -10 4 -35 11 -36 15 -15 8 -10 6 -10 9 -25 30 -30 31 -30 10 -10 1 -5 0 -10 -2 -10 -4 -25 -15 -10 -4 -30 -5 -55 -2 -15 -4 -15 -7 -9 -7 -10 -10 -7 -10 -7 -15 -5 -15 -4 -20 -1 -20 -1 -194 1 -25z"/><path fill="#3777fe" d="M-17 690l5 -20 6 -15 10 -15 11 -11 10 -5 10 -4 50 -10 25 -7 10 -5 20 -15 15 -6 15 -3 10 0 30 10 30 32 25 29 5 5 10 7 15 9 20 9 21 7 35 11 10 4 10 7 5 5 5 8 13 33 5 10 9 10 13 7 10 3 10 2 15 2 15 1 25 -3 55 -9 20 -2 30 -1 30 1 35 6 75 18 12 5 9 5 5 5 0 5 -5 4 -9 5 -17 6 -75 18 -35 5 -30 1 -30 -1 -20 -3 -50 -8 -20 -2 -25 0 -15 3 -10 2 -15 8 -5 4 -5 5 -7 12 -13 33 -5 8 -5 5 -5 4 -10 5 -48 15 -24 10 -19 10 -10 6 -10 9 -25 29 -30 32 -30 10 -10 0 -5 0 -10 -3 -10 -4 -10 -6 -15 -11 -10 -5 -25 -7 -47 -10 -15 -5 -8 -4 -7 -6 -8 -10 -6 -10 -4 -10 -5 -15 -2 -15 -1 -15 -1 -179 1 -25z"/><path fill="#317dfb" d="M11 695l4 -15 7 -15 9 -10 9 -8 14 -7 61 -26 23 -19 12 -8 15 -5 5 0 10 1 30 9 30 31 25 30 5 5 10 7 15 8 15 7 26 9 35 11 15 8 5 4 5 8 15 35 6 10 5 5 6 5 13 6 10 3 15 3 25 1 25 -3 45 -8 30 -3 25 -1 25 1 30 4 80 18 12 4 10 5 5 5 0 5 -5 4 -7 4 -20 7 -75 16 -35 5 -25 0 -25 -1 -25 -3 -45 -8 -25 -3 -25 1 -15 3 -10 3 -13 6 -6 5 -5 5 -6 10 -15 35 -5 8 -5 4 -15 8 -35 11 -26 9 -25 12 -10 6 -10 9 -25 30 -30 31 -30 9 -10 1 -5 0 -10 -3 -10 -5 -10 -7 -15 -13 -10 -6 -50 -21 -16 -8 -9 -6 -9 -9 -9 -15 -4 -10 -2 -10 -2 -25 0 -169 1 -25z"/><path fill="#2e84f9" d="M41 705l4 -15 5 -10 12 -15 11 -10 14 -10 28 -18 20 -20 10 -8 10 -5 10 -4 5 0 10 0 30 9 30 32 25 29 5 5 10 7 15 8 35 14 41 13 15 9 5 5 5 8 11 26 9 14 10 10 10 5 10 3 10 2 15 2 15 0 25 -2 45 -8 30 -5 30 -1 25 2 35 5 75 17 12 6 5 5 0 5 -5 4 -12 5 -10 3 -70 16 -35 5 -30 1 -25 -2 -25 -4 -45 -8 -20 -2 -25 1 -15 2 -10 3 -15 6 -10 9 -9 15 -11 26 -5 8 -8 6 -7 5 -10 5 -36 11 -30 12 -15 7 -10 6 -10 9 -25 29 -30 32 -30 9 -10 0 -5 0 -10 -4 -10 -5 -10 -8 -20 -20 -28 -18 -14 -10 -16 -15 -7 -10 -5 -10 -3 -10 -1 -10 -1 -25 0 -144 0 -25z"/><path fill="#2d8af5" d="M71 705l2 -10 4 -10 9 -15 13 -15 16 -15 22 -25 12 -10 11 -5 10 -3 10 1 30 8 30 32 25 29 10 8 15 9 40 16 36 13 15 9 10 10 14 28 10 15 11 9 10 5 20 4 15 2 15 -1 20 -2 50 -9 25 -4 30 -1 25 1 30 4 72 17 14 5 6 5 0 5 -6 4 -16 6 -70 16 -35 5 -25 0 -30 -2 -20 -3 -45 -9 -25 -2 -15 -1 -15 2 -20 4 -10 5 -11 9 -10 15 -14 28 -5 6 -8 6 -12 7 -36 13 -35 14 -15 8 -10 6 -5 5 -25 29 -30 32 -25 7 -15 2 -10 -3 -10 -4 -13 -11 -22 -25 -16 -15 -9 -10 -11 -15 -6 -15 -4 -20 0 -30 0 -139z"/></g></g><g transform="scale(.1)"><path fill="#2c90f0" d="M92 700l5 -15 5 -10 27 -40 11 -15 10 -8 10 -5 10 -3 10 1 30 8 30 31 25 29 10 8 25 13 61 25 15 8 10 9 5 7 12 22 8 12 10 10 10 5 20 6 15 1 15 0 20 -2 50 -11 25 -4 25 -2 30 1 35 4 57 15 18 6 5 4 0 5 -7 4 -16 5 -42 11 -30 6 -25 3 -30 0 -25 -3 -25 -4 -40 -9 -20 -3 -15 0 -15 1 -10 1 -15 5 -10 5 -8 7 -7 11 -15 26 -5 7 -10 9 -15 8 -70 29 -18 10 -8 7 -25 29 -30 31 -25 7 -10 2 -5 0 -10 -3 -10 -5 -5 -4 -9 -9 -7 -10 -27 -40 -5 -10 -4 -10 -3 -20 0 -40 0 -134 0 -20z"/><path fill="#2896ec" d="M107 700l4 -15 11 -25 8 -15 10 -15 10 -10 10 -6 10 -3 10 1 30 7 30 31 21 25 9 8 5 4 15 8 66 30 16 10 14 12 5 6 15 24 10 12 10 8 10 5 20 5 15 0 25 -5 49 -12 21 -5 25 -2 30 -1 20 2 20 3 49 13 14 5 9 5 0 5 -9 4 -14 5 -37 10 -32 6 -25 2 -30 -1 -25 -3 -20 -4 -45 -12 -25 -5 -15 0 -20 5 -10 5 -10 8 -10 12 -15 24 -5 6 -15 13 -16 9 -65 30 -20 12 -10 9 -30 35 -20 20 -25 6 -10 2 -5 0 -10 -3 -10 -6 -5 -5 -9 -10 -9 -15 -7 -15 -9 -20 -4 -15 -2 -30 0 -164z"/><path fill="#259be8" d="M175 618l10 1 25 7 15 14 35 39 10 10 15 9 34 17 37 19 15 10 10 8 10 11 15 23 16 19 3 5 0 5 -3 4 -16 19 -15 23 -10 11 -10 8 -15 10 -37 19 -34 17 -15 9 -10 10 -35 39 -15 14 -25 7 -10 1 -10 -1 -5 -2 -10 -7 -5 -4 -6 -8 -6 -10 -5 -10 -5 -15 -5 -20 -1 -15 -1 -99 1 -105 1 -15 5 -20 5 -15 5 -10 6 -10 6 -8 5 -4 10 -7 5 -2zM498 810l8 -5 13 -5 36 -10 31 -5 30 -1 20 1 15 2 31 8 29 10 7 5 0 5 -7 4 -14 5 -35 10 -31 5 -30 1 -35 -4 -31 -7 -29 -10 -8 -4z"/><path fill="#23a0e5" d="M175 624l10 1 25 6 15 15 35 38 10 10 15 9 30 17 46 27 10 7 10 8 10 10 17 28 4 10 0 5 -2 4 -14 25 -10 13 -10 9 -19 13 -42 25 -35 20 -10 6 -10 10 -35 38 -15 15 -25 6 -10 1 -10 -2 -5 -2 -9 -7 -5 -5 -9 -15 -8 -20 -5 -20 -1 -15 -1 -99 1 -100 1 -20 3 -15 7 -20 5 -10 6 -9 6 -6 9 -7 5 -2zM513 810l6 -5 11 -5 26 -8 30 -5 30 -1 30 3 26 6 15 5 12 5 6 5 0 5 -6 4 -12 5 -26 8 -30 5 -30 1 -30 -3 -26 -6 -15 -5 -11 -5 -6 -4z"/><path fill="#1fa6e2" d="M175 630l10 1 25 6 15 14 35 38 10 10 41 26 25 17 30 18 15 12 10 11 9 17 3 10 -1 9 -6 14 -10 14 -10 9 -11 8 -29 18 -25 17 -41 26 -10 10 -35 38 -15 14 -25 6 -10 1 -5 -1 -9 -4 -12 -10 -10 -15 -7 -20 -2 -15 -2 -20 0 -94 0 -100 2 -20 2 -15 7 -20 10 -15 12 -10 9 -4zM524 810l5 -5 10 -5 17 -6 30 -5 30 -1 30 3 15 4 16 5 11 5 6 5 0 5 -6 4 -11 5 -21 7 -25 4 -30 1 -30 -3 -16 -4 -16 -5 -10 -5 -5 -4z"/><path fill="#1baade" d="M175 636l10 1 25 5 15 14 45 48 66 48 28 18 12 9 13 16 3 5 3 10 -1 9 -3 8 -5 8 -10 10 -12 9 -28 18 -66 48 -55 58 -5 4 -25 5 -10 1 -10 -2 -5 -3 -9 -9 -6 -8 -3 -7 -5 -15 -3 -15 -1 -20 0 -194 1 -20 3 -15 5 -15 3 -7 6 -8 9 -9 5 -3zM533 810l5 -5 10 -5 17 -5 26 -4 25 -1 30 4 22 6 10 5 6 5 0 5 -6 4 -10 5 -18 5 -24 4 -25 1 -30 -3 -23 -7 -10 -5 -5 -4z"/><path fill="#15afd9" d="M180 641l30 6 5 4 30 31 25 27 60 49 24 17 13 10 9 9 3 6 4 10 0 5 -4 9 -3 6 -9 9 -13 10 -24 17 -60 49 -25 27 -30 31 -5 4 -30 6 -10 -1 -5 -3 -6 -5 -9 -10 -5 -8 -4 -12 -3 -15 -1 -15 -1 -99 1 -100 1 -15 2 -15 3 -10 4 -10 8 -12 10 -8 5 -3zM542 810l5 -5 11 -5 13 -4 20 -3 25 -1 21 3 21 5 11 5 5 5 0 5 -5 4 -11 5 -12 4 -20 3 -25 1 -22 -3 -21 -5 -11 -5 -5 -4z"/><path fill="#0cb3d3" d="M180 647l30 5 5 4 30 30 25 28 10 10 73 66 9 10 4 10 0 5 -1 4 -8 10 -77 71 -10 10 -25 28 -30 30 -5 4 -30 5 -10 -1 -5 -3 -5 -4 -10 -13 -6 -17 -3 -15 -1 -15 0 -94 0 -100 1 -15 3 -15 6 -17 10 -13 5 -4 5 -3zM551 810l5 -5 15 -6 25 -4 20 0 25 3 18 7 6 5 0 5 -6 4 -13 6 -25 4 -20 0 -20 -2 -15 -4 -10 -4 -5 -4z"/><path fill="#03b7cc" d="M180 652l10 1 20 4 10 8 25 25 35 42 42 43 18 25 4 10 0 5 -4 9 -18 25 -42 43 -26 32 -14 15 -25 24 -5 4 -20 4 -10 1 -10 -2 -5 -2 -5 -5 -8 -14 -5 -15 -3 -15 0 -15 0 -184 0 -15 3 -15 5 -15 8 -14 5 -5 5 -2zM560 810l7 -5 16 -5 18 -2 15 0 16 2 17 5 6 5 0 5 -6 4 -17 5 -16 2 -15 0 -18 -2 -16 -5 -7 -4z"/><path fill="#02bac5" d="M180 657l10 1 20 3 10 9 25 24 14 16 16 24 38 46 8 15 5 15 0 5 -3 9 -10 20 -38 46 -16 24 -14 16 -25 24 -10 9 -20 3 -10 1 -10 -2 -5 -3 -5 -6 -6 -12 -5 -15 -2 -25 0 -179 0 -15 2 -15 5 -15 6 -12 5 -6 5 -3zM572 810l8 -5 6 -2 15 -2 15 0 19 4 9 5 0 5 -9 4 -9 3 -15 1 -10 0 -21 -4 -8 -4z"/><path fill="#0abdbd" d="M180 661l10 1 20 4 15 12 20 19 14 18 16 27 24 33 10 20 4 15 0 5 -3 9 -8 20 -27 38 -16 27 -12 15 -17 17 -20 17 -20 4 -10 1 -5 -1 -5 -2 -6 -6 -6 -10 -5 -15 -2 -15 -1 -15 0 -174 1 -15 2 -15 5 -15 6 -10 6 -6 5 -2zM587 810l14 -4 15 0 12 4 0 5 -12 3 -15 0 -14 -3z"/><path fill="#19bfb5" d="M185 666l25 4 20 16 18 19 11 15 11 22 20 33 8 20 3 15 -2 14 -7 20 -22 38 -11 22 -11 15 -18 19 -20 16 -25 4 -10 -1 -5 -3 -5 -4 -6 -11 -3 -10 -2 -15 -1 -15 0 -174 1 -15 2 -15 3 -10 6 -11 5 -4 5 -3z"/><path fill="#25c2ad" d="M185 670l25 4 5 3 15 13 11 10 8 10 9 15 12 26 13 24 6 20 3 15 -1 9 -2 10 -6 20 -13 24 -12 26 -9 15 -8 10 -11 10 -15 13 -5 3 -25 4 -10 -2 -5 -3 -4 -5 -3 -5 -5 -15 -2 -25 0 -174 2 -25 5 -15 3 -5 4 -5 5 -3z"/><path fill="#2ec4a5" d="M185 674l25 3 5 3 15 13 16 17 7 10 5 10 19 45 5 20 2 15 -1 14 -5 20 -20 50 -8 15 -13 15 -22 20 -5 3 -25 3 -10 -2 -5 -4 -6 -10 -3 -10 -2 -25 -1 -169 1 -15 2 -15 3 -10 6 -10 5 -4z"/><path fill="#34c79c" d="M185 678l25 3 5 2 19 17 13 15 10 20 15 40 4 20 2 15 -1 14 -5 25 -15 40 -10 20 -13 15 -19 17 -5 2 -25 3 -5 -1 -5 -1 -5 -5 -5 -9 -2 -11 -2 -25 0 -164 2 -25 2 -11 5 -9 5 -5 5 -1z"/><path fill="#3cc992" d="M190 682l20 2 5 3 16 13 9 10 5 7 11 23 10 30 4 15 3 25 -1 14 -4 25 -10 30 -11 25 -11 15 -21 18 -5 3 -20 2 -10 0 -5 -3 -5 -5 -2 -5 -3 -10 -2 -25 0 -164 2 -25 3 -10 2 -5 5 -5 5 -3z"/><path fill="#47cb87" d="M185 685l10 0 15 2 5 3 10 8 16 17 6 10 5 10 10 30 4 20 3 25 -1 19 -5 25 -9 30 -10 20 -11 15 -18 15 -5 3 -20 2 -10 -1 -5 -3 -5 -7 -3 -14 -2 -25 0 -134 1 -40 1 -10 4 -10 4 -6 5 -3z"/><path fill="#54cc7c" d="M190 688l20 2 5 2 15 13 12 15 9 20 8 25 4 20 2 25 -1 24 -4 20 -9 30 -9 20 -12 15 -15 13 -5 2 -20 2 -10 -2 -5 -3 -3 -7 -3 -10 -2 -25 0 -154 2 -25 3 -10 3 -7 5 -3z"/><path fill="#63cd70" d="M190 691l20 2 5 2 11 10 13 15 10 20 8 25 3 15 2 30 0 19 -4 25 -7 25 -9 20 -11 15 -16 15 -5 2 -15 2 -10 -1 -5 -1 -5 -7 -3 -5 -2 -10 -1 -25 0 -134 1 -35 2 -10 3 -7 5 -5 5 -1z"/><path fill="#73cd63" d="M195 694l15 1 5 3 13 12 11 15 7 15 8 25 4 20 2 25 -1 24 -3 20 -8 25 -8 19 -10 14 -15 14 -5 3 -15 1 -10 -1 -5 -2 -5 -7 -2 -6 -1 -10 -1 -15 0 -154 1 -15 1 -10 2 -6 5 -7 5 -2z"/><path fill="#83cc57" d="M190 697l20 1 5 3 10 9 12 15 8 18 7 22 3 15 2 30 -1 24 -3 20 -7 25 -6 15 -10 15 -15 14 -5 3 -15 1 -10 -1 -5 -3 -2 -4 -3 -10 -2 -25 -1 -124 2 -40 2 -10 4 -9 5 -3z"/><path fill="#94ca4a" d="M195 700l15 1 5 2 12 12 10 15 7 15 7 25 2 15 2 25 -1 24 -3 20 -7 25 -7 15 -10 15 -12 12 -5 2 -15 1 -10 -2 -3 -3 -4 -5 -1 -5 -3 -25 0 -139 2 -25 2 -10 4 -5 3 -3z"/><path fill="#a4c83e" d="M195 703l15 0 5 3 10 10 10 14 8 20 6 20 3 20 1 20 -1 24 -3 20 -6 20 -6 15 -9 15 -8 10 -10 7 -10 0 -10 0 -3 -2 -7 -6 -3 -14 -1 -20 0 -119 1 -35 2 -10 2 -5 4 -5 5 -2z"/><path fill="#b3c534" d="M195 705l15 1 5 3 10 10 7 11 7 15 7 20 3 15 2 25 -1 19 -2 25 -4 15 -7 20 -8 15 -9 12 -5 4 -5 3 -10 1 -10 -1 -5 -3 -3 -6 -3 -10 -1 -25 -1 -109 2 -35 1 -12 5 -8 5 -4z"/><path fill="#c1c32c" d="M200 708l10 1 5 3 8 8 9 15 7 15 6 20 2 15 2 25 -1 19 -2 20 -4 15 -7 20 -8 15 -8 10 -9 6 -10 1 -10 -2 -5 -4 -4 -11 -2 -25 0 -124 2 -25 4 -11 5 -4z"/><path fill="#cfc028" d="M200 711l10 1 5 2 9 11 8 15 8 20 4 15 2 15 1 20 -1 19 -2 20 -4 15 -8 20 -8 15 -9 11 -5 2 -10 1 -5 0 -5 -2 -5 -6 -2 -6 -1 -10 -1 -15 0 -119 1 -25 3 -10 4 -5 6 -4z"/><path fill="#dbbd29" d="M200 714l10 0 5 3 7 8 8 15 8 20 4 15 2 15 1 20 -1 19 -2 20 -4 15 -6 15 -7 15 -10 13 -5 3 -10 0 -5 -1 -5 -2 -4 -8 -1 -5 -3 -25 0 -114 3 -25 1 -5 4 -8 5 -2z"/><path fill="#e7bb2e" d="M200 717l10 1 5 3 7 9 6 10 6 15 5 15 2 15 1 20 0 19 -1 20 -4 15 -5 15 -7 15 -6 10 -4 4 -5 3 -5 1 -10 -1 -5 -4 -1 -3 -4 -13 -1 -22 0 -94 1 -30 2 -10 3 -8 5 -4z"/><path fill="#f1ba37" d="M200 720l10 1 5 3 5 6 6 10 6 15 5 15 2 15 1 20 0 19 -2 20 -1 10 -5 15 -6 15 -6 10 -5 6 -5 3 -10 1 -5 -2 -5 -6 -3 -12 -1 -20 -1 -89 2 -30 1 -10 2 -7 5 -6z"/><path fill="#fabb3d" d="M210 724l5 4 5 7 8 15 5 15 3 10 2 15 0 20 -2 34 -2 10 -4 15 -7 15 -6 10 -7 6 -10 0 -5 -2 -5 -9 -1 -5 -2 -25 0 -94 2 -25 1 -5 5 -9 5 -2z"/><path fill="#fec03b" d="M205 727l5 1 5 3 6 9 7 15 4 15 2 10 2 30 -2 34 -5 20 -6 15 -8 14 -5 3 -5 1 -5 -1 -5 -3 -3 -9 -2 -5 -1 -20 0 -94 1 -20 2 -5 3 -9 5 -3z"/><path fill="#fec736" d="M205 731l5 1 5 3 5 8 6 12 4 15 2 10 2 30 -2 34 -5 20 -6 15 -6 10 -5 3 -5 1 -5 -1 -5 -5 -2 -8 -2 -20 -1 -89 2 -20 3 -13 5 -5z"/><path fill="#fdce31" d="M205 735l5 0 5 5 5 8 5 12 5 20 2 30 -2 34 -5 20 -5 12 -5 8 -5 5 -5 0 -5 -2 -2 -3 -3 -4 -1 -6 -2 -20 0 -84 2 -20 1 -6 3 -4 2 -3z"/><path fill="#fad52e" d="M205 740l5 0 5 4 8 16 3 10 2 10 2 25 -1 29 -3 20 -8 20 -3 6 -5 4 -5 0 -5 -2 -1 -3 -4 -9 -1 -16 0 -69 1 -25 2 -10 3 -8z"/><path fill="#f7dc2a" d="M210 744l6 6 4 9 4 11 3 15 1 25 0 19 -3 20 -3 10 -7 16 -5 5 -5 -1 -5 -3 -2 -7 -2 -15 0 -79 1 -15 3 -12 5 -3z"/><path fill="#f5e327" d="M210 750l5 4 7 16 3 20 1 20 -1 22 -2 17 -3 10 -5 10 -5 5 -5 0 -4 -5 -2 -5 -1 -15 0 -74 1 -15 2 -5 4 -5z"/><path fill="#f5ea24" d="M210 755l5 5 6 15 2 15 1 20 -1 19 -2 20 -6 15 -5 5 -5 -1 -2 -4 -3 -8 -1 -41 1 -47 3 -8 2 -4z"/><path fill="#f6f11f" d="M210 762l5 6 4 12 1 11 1 19 0 19 -2 15 -4 12 -5 6 -5 -2 -2 -6 -1 -10 0 -29 1 -40 2 -11z"/><path fill="#f8f818" d="M210 771l5 9 3 30 -1 19 -2 15 -5 9 -3 -4 -2 -3 0 -31 0 -37 2 -3z"/></g></g>
<text x="68.64" y="197.20" text-anchor="middle" class="t">-0.5</text>
<text x="132.85" y="197.20" text-anchor="middle" class="t">0</text>
<text x="197.06" y="197.20" text-anchor="middle" class="t">0.5</text>
<text x="51.00" y="20.50" text-anchor="end" class="t">-1</text>
<text x="51.00" y="61.38" text-anchor="end" class="t">-0.5</text>
<text x="51.00" y="102.25" text-anchor="end" class="t">0</text>
<text x="51.00" y="143.12" text-anchor="end" class="t">0.5</text>
<text x="51.00" y="184.00" text-anchor="end" class="t">1</text>
<path d="M68.64 178.10v-1.70M68.64 14.60v1.70M132.85 178.10v-1.70M132.85 14.60v1.70M197.06 178.10v-1.70M197.06 14.60v1.70M55.80 55.48h1.70M209.90 55.48h-1.70M55.80 96.35h1.70M209.90 96.35h-1.70M55.80 137.22h1.70M209.90 137.22h-1.70" fill="none" stroke="#262626" stroke-width="0.9"/>
<rect x="55.80" y="14.60" width="154.10" height="163.50" fill="none" stroke="#262626" stroke-width="0.8"/>
<text x="132.55" y="217.10" text-anchor="middle" class="xl">2fd/fr</text>
<text transform="translate(20.60 97.15) rotate(-90)" text-anchor="middle" class="yl">cos(<tspan class="psi">ψ</tspan>)</text>
<rect x="218.20" y="14.60" width="15.50" height="164.60" fill="url(#pg)" stroke="#262626" stroke-width="0.8"/>
<text x="238.70" y="19.70" class="c">0</text>
<text x="238.70" y="49.04" class="c">-10</text>
<text x="238.70" y="78.38" class="c">-20</text>
<text x="238.70" y="107.72" class="c">-30</text>
<text x="238.70" y="137.06" class="c">-40</text>
<text x="238.70" y="166.40" class="c">-50</text>
<path d="M233.70 14.60h-1.70M233.70 43.94h-1.70M233.70 73.28h-1.70M233.70 102.62h-1.70M233.70 131.96h-1.70M233.70 161.30h-1.70" fill="none" stroke="#262626" stroke-width="0.9"/>
<text x="351.71" y="197.20" text-anchor="middle" class="t">-0.5</text>
<text x="415.75" y="197.20" text-anchor="middle" class="t">0</text>
<text x="479.79" y="197.20" text-anchor="middle" class="t">0.5</text>
<text x="334.10" y="20.50" text-anchor="end" class="t">-1</text>
<text x="334.10" y="61.38" text-anchor="end" class="t">-0.5</text>
<text x="334.10" y="102.25" text-anchor="end" class="t">0</text>
<text x="334.10" y="143.12" text-anchor="end" class="t">0.5</text>
<text x="334.10" y="184.00" text-anchor="end" class="t">1</text>
<path d="M351.71 178.10v-1.70M351.71 14.60v1.70M415.75 178.10v-1.70M415.75 14.60v1.70M479.79 178.10v-1.70M479.79 14.60v1.70M338.90 55.48h1.70M492.60 55.48h-1.70M338.90 96.35h1.70M492.60 96.35h-1.70M338.90 137.22h1.70M492.60 137.22h-1.70" fill="none" stroke="#262626" stroke-width="0.9"/>
<rect x="338.90" y="14.60" width="153.70" height="163.50" fill="none" stroke="#262626" stroke-width="0.8"/>
<text x="415.45" y="217.10" text-anchor="middle" class="xl">2fd/fr</text>
<text transform="translate(303.70 97.15) rotate(-90)" text-anchor="middle" class="yl">cos(<tspan class="psi">ψ</tspan>)</text>
<rect x="501.70" y="14.60" width="15.10" height="164.60" fill="url(#pg)" stroke="#262626" stroke-width="0.8"/>
<text x="521.80" y="19.70" class="c">0</text>
<text x="521.80" y="49.04" class="c">-10</text>
<text x="521.80" y="78.38" class="c">-20</text>
<text x="521.80" y="107.72" class="c">-30</text>
<text x="521.80" y="137.06" class="c">-40</text>
<text x="521.80" y="166.40" class="c">-50</text>
<path d="M516.80 14.60h-1.70M516.80 43.94h-1.70M516.80 73.28h-1.70M516.80 102.62h-1.70M516.80 131.96h-1.70M516.80 161.30h-1.70" fill="none" stroke="#262626" stroke-width="0.9"/>
<text x="84.22" y="426.10" text-anchor="middle" class="t">-0.8</text>
<text x="119.98" y="426.10" text-anchor="middle" class="t">-0.6</text>
<text x="155.73" y="426.10" text-anchor="middle" class="t">-0.4</text>
<text x="191.49" y="426.10" text-anchor="middle" class="t">-0.2</text>
<text x="51.00" y="249.50" text-anchor="end" class="t">-1</text>
<text x="51.00" y="290.35" text-anchor="end" class="t">-0.5</text>
<text x="51.00" y="331.20" text-anchor="end" class="t">0</text>
<text x="51.00" y="372.05" text-anchor="end" class="t">0.5</text>
<text x="51.00" y="412.90" text-anchor="end" class="t">1</text>
<path d="M84.22 407.00v-1.70M84.22 243.60v1.70M119.98 407.00v-1.70M119.98 243.60v1.70M155.73 407.00v-1.70M155.73 243.60v1.70M191.49 407.00v-1.70M191.49 243.60v1.70M55.80 284.45h1.70M209.90 284.45h-1.70M55.80 325.30h1.70M209.90 325.30h-1.70M55.80 366.15h1.70M209.90 366.15h-1.70" fill="none" stroke="#262626" stroke-width="0.9"/>
<rect x="55.80" y="243.60" width="154.10" height="163.40" fill="none" stroke="#262626" stroke-width="0.8"/>
<text x="132.55" y="446.00" text-anchor="middle" class="xl">2fd/fr</text>
<text transform="translate(20.60 326.10) rotate(-90)" text-anchor="middle" class="yl">cos(<tspan class="psi">ψ</tspan>)</text>
<rect x="218.20" y="243.60" width="15.50" height="164.40" fill="url(#pg)" stroke="#262626" stroke-width="0.8"/>
<text x="238.70" y="248.70" class="c">0</text>
<text x="238.70" y="287.84" class="c">-10</text>
<text x="238.70" y="326.99" class="c">-20</text>
<text x="238.70" y="366.13" class="c">-30</text>
<text x="238.70" y="405.27" class="c">-40</text>
<path d="M233.70 243.60h-1.70M233.70 282.74h-1.70M233.70 321.89h-1.70M233.70 361.03h-1.70M233.70 400.17h-1.70" fill="none" stroke="#262626" stroke-width="0.9"/>
<text x="367.25" y="426.10" text-anchor="middle" class="t">-0.8</text>
<text x="402.91" y="426.10" text-anchor="middle" class="t">-0.6</text>
<text x="438.57" y="426.10" text-anchor="middle" class="t">-0.4</text>
<text x="474.23" y="426.10" text-anchor="middle" class="t">-0.2</text>
<text x="334.10" y="249.50" text-anchor="end" class="t">-1</text>
<text x="334.10" y="290.35" text-anchor="end" class="t">-0.5</text>
<text x="334.10" y="331.20" text-anchor="end" class="t">0</text>
<text x="334.10" y="372.05" text-anchor="end" class="t">0.5</text>
<text x="334.10" y="412.90" text-anchor="end" class="t">1</text>
<path d="M367.25 407.00v-1.70M367.25 243.60v1.70M402.91 407.00v-1.70M402.91 243.60v1.70M438.57 407.00v-1.70M438.57 243.60v1.70M474.23 407.00v-1.70M474.23 243.60v1.70M338.90 284.45h1.70M492.60 284.45h-1.70M338.90 325.30h1.70M492.60 325.30h-1.70M338.90 366.15h1.70M492.60 366.15h-1.70" fill="none" stroke="#262626" stroke-width="0.9"/>
<rect x="338.90" y="243.60" width="153.70" height="163.40" fill="none" stroke="#262626" stroke-width="0.8"/>
<text x="415.45" y="446.00" text-anchor="middle" class="xl">2fd/fr</text>
<text transform="translate(303.70 326.10) rotate(-90)" text-anchor="middle" class="yl">cos(<tspan class="psi">ψ</tspan>)</text>
<rect x="501.70" y="243.60" width="15.10" height="164.40" fill="url(#pg)" stroke="#262626" stroke-width="0.8"/>
<text x="521.80" y="248.70" class="c">0</text>
<text x="521.80" y="287.84" class="c">-10</text>
<text x="521.80" y="326.99" class="c">-20</text>
<text x="521.80" y="366.13" class="c">-30</text>
<text x="521.80" y="405.27" class="c">-40</text>
<path d="M516.80 243.60h-1.70M516.80 282.74h-1.70M516.80 321.89h-1.70M516.80 361.03h-1.70M516.80 400.17h-1.70" fill="none" stroke="#262626" stroke-width="0.9"/>
<rect x="375.0" y="83.0" width="30.6" height="28.3" fill="none" stroke="#ec1024" stroke-width="1.15"/>
<rect x="392.6" y="311.8" width="31.2" height="31.0" fill="none" stroke="#ec1024" stroke-width="1.15"/>
</svg>
</body></html>
